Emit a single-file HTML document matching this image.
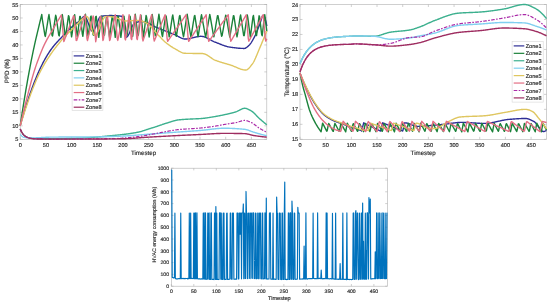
<!DOCTYPE html>
<html><head><meta charset="utf-8"><title>Simulation results</title>
<style>html,body{margin:0;padding:0;background:#fff;width:550px;height:303px;overflow:hidden}svg{display:block}text{stroke:#303030;stroke-width:0.15px}</style>
</head><body>
<svg width="550" height="303" viewBox="0 0 550 303" font-family="Liberation Sans, Arial, sans-serif" text-rendering="geometricPrecision">
<rect width="550" height="303" fill="#fff"/>
<rect x="20.2" y="4.5" width="246.60" height="134.80" fill="none" stroke="#b0b0b0" stroke-width="0.6"/>
<line x1="20.20" y1="139.3" x2="20.20" y2="136.8" stroke="#b0b0b0" stroke-width="0.6"/>
<line x1="20.20" y1="4.5" x2="20.20" y2="7.0" stroke="#b0b0b0" stroke-width="0.6"/>
<line x1="45.89" y1="139.3" x2="45.89" y2="136.8" stroke="#b0b0b0" stroke-width="0.6"/>
<line x1="45.89" y1="4.5" x2="45.89" y2="7.0" stroke="#b0b0b0" stroke-width="0.6"/>
<line x1="71.58" y1="139.3" x2="71.58" y2="136.8" stroke="#b0b0b0" stroke-width="0.6"/>
<line x1="71.58" y1="4.5" x2="71.58" y2="7.0" stroke="#b0b0b0" stroke-width="0.6"/>
<line x1="97.26" y1="139.3" x2="97.26" y2="136.8" stroke="#b0b0b0" stroke-width="0.6"/>
<line x1="97.26" y1="4.5" x2="97.26" y2="7.0" stroke="#b0b0b0" stroke-width="0.6"/>
<line x1="122.95" y1="139.3" x2="122.95" y2="136.8" stroke="#b0b0b0" stroke-width="0.6"/>
<line x1="122.95" y1="4.5" x2="122.95" y2="7.0" stroke="#b0b0b0" stroke-width="0.6"/>
<line x1="148.64" y1="139.3" x2="148.64" y2="136.8" stroke="#b0b0b0" stroke-width="0.6"/>
<line x1="148.64" y1="4.5" x2="148.64" y2="7.0" stroke="#b0b0b0" stroke-width="0.6"/>
<line x1="174.32" y1="139.3" x2="174.32" y2="136.8" stroke="#b0b0b0" stroke-width="0.6"/>
<line x1="174.32" y1="4.5" x2="174.32" y2="7.0" stroke="#b0b0b0" stroke-width="0.6"/>
<line x1="200.01" y1="139.3" x2="200.01" y2="136.8" stroke="#b0b0b0" stroke-width="0.6"/>
<line x1="200.01" y1="4.5" x2="200.01" y2="7.0" stroke="#b0b0b0" stroke-width="0.6"/>
<line x1="225.70" y1="139.3" x2="225.70" y2="136.8" stroke="#b0b0b0" stroke-width="0.6"/>
<line x1="225.70" y1="4.5" x2="225.70" y2="7.0" stroke="#b0b0b0" stroke-width="0.6"/>
<line x1="251.39" y1="139.3" x2="251.39" y2="136.8" stroke="#b0b0b0" stroke-width="0.6"/>
<line x1="251.39" y1="4.5" x2="251.39" y2="7.0" stroke="#b0b0b0" stroke-width="0.6"/>
<line x1="20.2" y1="139.30" x2="22.7" y2="139.30" stroke="#b0b0b0" stroke-width="0.6"/>
<line x1="266.8" y1="139.30" x2="264.3" y2="139.30" stroke="#b0b0b0" stroke-width="0.6"/>
<line x1="20.2" y1="125.82" x2="22.7" y2="125.82" stroke="#b0b0b0" stroke-width="0.6"/>
<line x1="266.8" y1="125.82" x2="264.3" y2="125.82" stroke="#b0b0b0" stroke-width="0.6"/>
<line x1="20.2" y1="112.34" x2="22.7" y2="112.34" stroke="#b0b0b0" stroke-width="0.6"/>
<line x1="266.8" y1="112.34" x2="264.3" y2="112.34" stroke="#b0b0b0" stroke-width="0.6"/>
<line x1="20.2" y1="98.86" x2="22.7" y2="98.86" stroke="#b0b0b0" stroke-width="0.6"/>
<line x1="266.8" y1="98.86" x2="264.3" y2="98.86" stroke="#b0b0b0" stroke-width="0.6"/>
<line x1="20.2" y1="85.38" x2="22.7" y2="85.38" stroke="#b0b0b0" stroke-width="0.6"/>
<line x1="266.8" y1="85.38" x2="264.3" y2="85.38" stroke="#b0b0b0" stroke-width="0.6"/>
<line x1="20.2" y1="71.90" x2="22.7" y2="71.90" stroke="#b0b0b0" stroke-width="0.6"/>
<line x1="266.8" y1="71.90" x2="264.3" y2="71.90" stroke="#b0b0b0" stroke-width="0.6"/>
<line x1="20.2" y1="58.42" x2="22.7" y2="58.42" stroke="#b0b0b0" stroke-width="0.6"/>
<line x1="266.8" y1="58.42" x2="264.3" y2="58.42" stroke="#b0b0b0" stroke-width="0.6"/>
<line x1="20.2" y1="44.94" x2="22.7" y2="44.94" stroke="#b0b0b0" stroke-width="0.6"/>
<line x1="266.8" y1="44.94" x2="264.3" y2="44.94" stroke="#b0b0b0" stroke-width="0.6"/>
<line x1="20.2" y1="31.46" x2="22.7" y2="31.46" stroke="#b0b0b0" stroke-width="0.6"/>
<line x1="266.8" y1="31.46" x2="264.3" y2="31.46" stroke="#b0b0b0" stroke-width="0.6"/>
<line x1="20.2" y1="17.98" x2="22.7" y2="17.98" stroke="#b0b0b0" stroke-width="0.6"/>
<line x1="266.8" y1="17.98" x2="264.3" y2="17.98" stroke="#b0b0b0" stroke-width="0.6"/>
<line x1="20.2" y1="4.50" x2="22.7" y2="4.50" stroke="#b0b0b0" stroke-width="0.6"/>
<line x1="266.8" y1="4.50" x2="264.3" y2="4.50" stroke="#b0b0b0" stroke-width="0.6"/>
<g fill="none" stroke-linejoin="round" stroke-width="1.4">
<polyline points="20.20,125.82 20.71,123.98 21.23,122.16 21.74,120.35 22.25,118.57 22.77,116.80 23.28,115.06 23.80,113.33 24.31,111.62 24.82,109.93 25.34,108.25 25.85,106.60 26.37,104.97 26.88,103.35 27.39,101.75 27.91,100.18 28.42,98.62 28.93,97.08 29.45,95.57 29.96,94.07 30.48,92.59 30.99,91.13 31.50,89.69 32.02,88.27 32.53,86.88 33.04,85.50 33.56,84.14 34.07,82.80 34.59,81.49 35.10,80.19 35.61,78.91 36.13,77.66 36.64,76.43 37.15,75.21 37.67,74.02 38.18,72.85 38.70,71.70 39.21,70.57 39.72,69.46 40.24,68.37 40.75,67.30 41.26,66.24 41.78,65.21 42.29,64.19 42.80,63.18 43.32,62.20 43.83,61.23 44.35,60.28 44.86,59.35 45.37,58.43 45.89,57.54 46.40,56.66 46.92,55.79 47.43,54.95 47.94,54.12 48.46,53.31 48.97,52.52 49.48,51.74 50.00,50.99 50.51,50.25 51.03,49.52 51.54,48.82 52.05,48.13 52.57,47.46 53.08,46.80 53.59,46.16 54.11,45.53 54.62,44.92 55.14,44.32 55.65,43.72 56.16,43.14 56.68,42.57 57.19,42.00 57.70,41.44 58.22,40.89 58.73,40.35 59.25,39.80 59.76,39.26 60.27,38.73 60.79,38.19 61.30,37.65 61.81,37.12 62.33,36.58 62.84,36.04 63.36,35.50 63.87,34.96 64.38,34.42 64.90,33.88 65.41,33.34 65.92,32.80 66.44,32.26 66.95,31.72 67.47,31.19 67.98,30.67 68.49,30.14 69.01,29.63 69.52,29.11 70.03,28.61 70.55,28.11 71.06,27.62 71.58,27.14 72.09,26.66 72.60,26.20 73.12,25.74 73.63,25.30 74.14,24.87 74.66,24.45 75.17,24.04 75.69,23.64 76.20,23.27 76.71,22.93 77.23,22.62 77.74,22.31 78.25,22.00 78.77,21.68 79.28,21.33 79.80,20.95 80.31,20.47 80.82,19.88 81.34,19.22 81.85,18.54 82.36,17.87 82.88,17.28 83.39,16.80 83.91,16.48 84.42,16.36 84.93,16.53 85.45,17.01 85.96,17.76 86.47,18.72 86.99,19.86 87.50,21.14 88.02,22.50 88.53,23.91 89.04,25.32 89.56,26.68 90.07,27.96 90.58,29.10 91.10,30.07 91.61,30.81 92.13,31.29 92.64,31.46 93.15,31.30 93.67,30.83 94.18,30.11 94.69,29.17 95.21,28.05 95.72,26.81 96.24,25.47 96.75,24.09 97.26,22.70 97.78,21.34 98.29,20.07 98.80,18.92 99.32,17.93 99.83,17.14 100.35,16.61 100.86,16.36 101.37,16.28 101.89,16.20 102.40,16.12 102.91,16.05 103.43,15.98 103.94,15.92 104.46,15.86 104.97,15.81 105.48,15.76 106.00,15.72 106.51,15.68 107.02,15.65 107.54,15.62 108.05,15.60 108.57,15.58 109.08,15.56 109.59,15.56 110.11,15.55 110.62,15.55 111.13,15.56 111.65,15.56 112.16,15.57 112.68,15.58 113.19,15.59 113.70,15.61 114.22,15.63 114.73,15.65 115.24,15.68 115.76,15.71 116.27,15.74 116.79,15.77 117.30,15.81 117.81,15.86 118.33,15.90 118.84,15.96 119.35,16.01 119.87,16.07 120.38,16.14 120.90,16.21 121.41,16.28 121.92,16.36 122.44,17.33 122.95,19.74 123.46,23.11 123.98,26.96 124.49,30.80 125.01,34.14 125.52,36.50 126.03,37.39 126.55,37.26 127.06,36.89 127.57,36.30 128.09,35.54 128.60,34.63 129.12,33.60 129.63,32.47 130.14,31.29 130.66,30.09 131.17,28.88 131.68,27.71 132.20,26.61 132.71,25.59 133.22,24.71 133.74,23.98 134.25,23.43 134.77,23.10 135.28,22.90 135.79,22.70 136.31,22.51 136.82,22.33 137.34,22.17 137.85,22.02 138.36,21.89 138.88,21.77 139.39,21.67 139.90,21.59 140.42,21.53 140.93,21.50 141.44,21.48 141.96,21.50 142.47,21.53 142.99,21.59 143.50,21.67 144.01,21.78 144.53,21.90 145.04,22.04 145.56,22.19 146.07,22.36 146.58,22.55 147.10,22.75 147.61,22.96 148.12,23.18 148.64,23.42 149.15,23.66 149.66,23.91 150.18,24.16 150.69,24.42 151.21,24.69 151.72,24.96 152.23,25.22 152.75,25.49 153.26,25.76 153.78,26.03 154.29,26.29 154.80,26.55 155.32,26.81 155.83,27.05 156.34,27.29 156.86,27.53 157.37,27.75 157.88,27.96 158.40,28.16 158.91,28.36 159.43,28.56 159.94,28.77 160.45,28.97 160.97,29.17 161.48,29.37 162.00,29.58 162.51,29.78 163.02,29.98 163.54,30.18 164.05,30.38 164.56,30.59 165.08,30.79 165.59,30.99 166.10,31.19 166.62,31.40 167.13,31.60 167.65,31.80 168.16,32.01 168.67,32.21 169.19,32.42 169.70,32.62 170.22,32.83 170.73,33.03 171.24,33.24 171.76,33.44 172.27,33.65 172.78,33.86 173.30,34.07 173.81,34.28 174.32,34.49 174.84,34.70 175.35,34.92 175.87,35.16 176.38,35.41 176.89,35.68 177.41,35.96 177.92,36.25 178.44,36.53 178.95,36.82 179.46,37.10 179.98,37.38 180.49,37.64 181.00,37.89 181.52,38.13 182.03,38.34 182.55,38.53 183.06,38.69 183.57,38.83 184.09,38.93 184.60,38.99 185.11,39.01 185.63,39.00 186.14,38.98 186.66,38.94 187.17,38.89 187.68,38.82 188.20,38.74 188.71,38.66 189.22,38.56 189.74,38.46 190.25,38.35 190.77,38.23 191.28,38.11 191.79,37.98 192.31,37.86 192.82,37.73 193.33,37.60 193.85,37.47 194.36,37.34 194.88,37.21 195.39,37.09 195.90,36.97 196.42,36.86 196.93,36.76 197.44,36.66 197.96,36.58 198.47,36.50 198.99,36.44 199.50,36.38 200.01,36.35 200.53,36.32 201.04,36.31 201.55,36.33 202.07,36.37 202.58,36.45 203.09,36.55 203.61,36.67 204.12,36.82 204.64,36.99 205.15,37.18 205.66,37.38 206.18,37.60 206.69,37.84 207.21,38.09 207.72,38.34 208.23,38.61 208.75,38.88 209.26,39.16 209.77,39.44 210.29,39.73 210.80,40.01 211.31,40.29 211.83,40.57 212.34,40.84 212.86,41.10 213.37,41.36 213.88,41.60 214.40,41.83 214.91,42.04 215.43,42.24 215.94,42.44 216.45,42.63 216.97,42.83 217.48,43.04 217.99,43.24 218.51,43.45 219.02,43.65 219.53,43.86 220.05,44.07 220.56,44.27 221.08,44.48 221.59,44.68 222.10,44.88 222.62,45.07 223.13,45.27 223.65,45.45 224.16,45.63 224.67,45.81 225.19,45.98 225.70,46.14 226.21,46.29 226.73,46.44 227.24,46.57 227.75,46.70 228.27,46.82 228.78,46.92 229.30,47.02 229.81,47.10 230.32,47.17 230.84,47.25 231.35,47.32 231.87,47.39 232.38,47.46 232.89,47.54 233.41,47.60 233.92,47.67 234.43,47.74 234.95,47.80 235.46,47.86 235.98,47.92 236.49,47.98 237.00,48.03 237.52,48.09 238.03,48.14 238.54,48.18 239.06,48.22 239.57,48.26 240.09,48.30 240.60,48.33 241.11,48.36 241.63,48.39 242.14,48.41 242.65,48.42 243.17,48.44 243.68,48.44 244.20,48.44 244.71,48.39 245.22,48.24 245.74,48.00 246.25,47.68 246.76,47.30 247.28,46.88 247.79,46.42 248.31,45.93 248.82,45.43 249.33,44.94 249.85,44.40 250.36,43.78 250.87,43.09 251.39,42.32 251.90,41.50 252.42,40.63 252.93,39.72 253.44,38.78 253.96,37.82 254.47,36.85 254.98,35.84 255.50,34.76 256.01,33.61 256.53,32.41 257.04,31.17 257.55,29.90 258.07,28.61 258.58,27.31 259.09,26.01 259.61,24.72 260.12,23.26 260.64,21.54 261.15,19.75 261.66,18.06 262.18,16.63 262.69,15.65 263.20,15.28 263.72,15.52 264.23,16.20 264.75,17.34 265.26,18.90 265.77,20.88 266.29,23.28 266.80,26.07" stroke="#2e2e96"/>
<polyline points="20.20,125.82 20.71,122.38 21.23,118.98 21.74,115.62 22.25,112.30 22.77,109.03 23.28,105.80 23.80,102.60 24.31,99.45 24.82,96.34 25.34,93.26 25.85,90.23 26.37,87.23 26.88,84.27 27.39,81.34 27.91,78.46 28.42,75.61 28.93,72.79 29.45,70.01 29.96,67.28 30.48,64.59 30.99,61.95 31.50,59.36 32.02,56.82 32.53,54.31 33.04,51.85 33.56,49.42 34.07,47.03 34.59,44.67 35.10,42.37 35.61,40.12 36.13,37.93 36.64,35.77 37.15,33.62 37.67,31.46 38.18,29.30 38.70,27.15 39.21,25.01 39.72,22.88 40.24,20.76 40.75,18.66 41.26,16.56 41.78,14.48 42.29,19.04 42.80,22.26 43.32,25.48 43.83,28.70 44.35,31.92 44.86,35.14 45.37,36.43 45.89,33.20 46.40,29.98 46.92,26.76 47.43,23.54 47.94,20.32 48.46,17.10 48.97,14.55 49.48,18.01 50.00,21.47 50.51,24.93 51.03,28.39 51.54,31.85 52.05,35.31 52.57,36.01 53.08,32.55 53.59,29.09 54.11,25.63 54.62,22.16 55.14,18.70 55.65,15.24 56.16,16.78 56.68,20.46 57.19,24.14 57.70,27.82 58.22,31.50 58.73,35.18 59.25,35.92 59.76,32.24 60.27,28.56 60.79,24.88 61.30,21.20 61.81,17.52 62.33,14.58 62.84,18.29 63.36,22.00 63.87,25.71 64.38,29.42 64.90,33.13 65.41,36.83 65.92,34.24 66.44,30.53 66.95,26.82 67.47,23.11 67.98,19.40 68.49,15.69 69.01,16.62 69.52,20.66 70.03,24.69 70.55,28.72 71.06,32.75 71.58,36.79 72.09,33.96 72.60,29.93 73.12,25.90 73.63,21.87 74.14,17.83 74.66,14.64 75.17,19.02 75.69,23.39 76.20,27.77 76.71,32.14 77.23,36.52 77.74,33.89 78.25,29.52 78.77,25.14 79.28,20.77 79.80,16.39 80.31,16.41 80.82,20.83 81.34,25.25 81.85,29.66 82.36,34.08 82.88,36.29 83.39,31.87 83.91,27.45 84.42,23.04 84.93,18.62 85.45,14.21 85.96,18.58 86.47,22.95 86.99,27.33 87.50,31.70 88.02,36.08 88.53,34.33 89.04,29.95 89.56,25.58 90.07,21.21 90.58,16.83 91.10,16.08 91.61,20.76 92.13,25.45 92.64,30.13 93.15,34.82 93.67,35.28 94.18,30.60 94.69,25.92 95.21,21.23 95.72,16.55 96.24,16.31 96.75,20.53 97.26,24.74 97.78,28.96 98.29,33.18 98.80,37.39 99.32,33.18 99.83,28.96 100.35,24.74 100.86,20.53 101.37,16.31 101.89,16.52 102.40,21.16 102.91,25.80 103.43,30.44 103.94,35.07 104.46,35.07 104.97,30.44 105.48,25.80 106.00,21.16 106.51,16.52 107.02,16.31 107.54,20.53 108.05,24.74 108.57,28.96 109.08,33.18 109.59,37.39 110.11,33.18 110.62,28.96 111.13,24.74 111.65,20.53 112.16,16.31 112.68,16.31 113.19,20.53 113.70,24.74 114.22,28.96 114.73,33.18 115.24,37.39 115.76,33.18 116.27,28.96 116.79,24.74 117.30,20.53 117.81,16.31 118.33,16.31 118.84,20.53 119.35,24.74 119.87,28.96 120.38,33.18 120.90,37.39 121.41,33.18 121.92,28.96 122.44,24.74 122.95,20.53 123.46,16.31 123.98,16.14 124.49,20.00 125.01,23.87 125.52,27.73 126.03,31.59 126.55,35.46 127.06,35.46 127.57,31.59 128.09,27.73 128.60,23.87 129.12,20.00 129.63,16.14 130.14,16.41 130.66,20.83 131.17,25.25 131.68,29.66 132.20,34.08 132.71,36.29 133.22,31.87 133.74,27.45 134.25,23.04 134.77,18.62 135.28,14.21 135.79,18.50 136.31,22.79 136.82,27.09 137.34,31.38 137.85,35.67 138.36,34.82 138.88,30.52 139.39,26.23 139.90,21.93 140.42,17.64 140.93,15.09 141.44,19.51 141.96,23.92 142.47,28.34 142.99,32.75 143.50,37.17 144.01,33.20 144.53,28.78 145.04,24.36 145.56,19.95 146.07,15.53 146.58,17.00 147.10,21.00 147.61,25.00 148.12,29.00 148.64,32.99 149.15,36.99 149.66,33.79 150.18,29.80 150.69,25.80 151.21,21.80 151.72,17.80 152.23,14.56 152.75,18.10 153.26,21.64 153.78,25.18 154.29,28.72 154.80,32.26 155.32,35.80 155.83,35.44 156.34,31.90 156.86,28.36 157.37,24.82 157.88,21.29 158.40,17.75 158.91,14.21 159.43,17.64 159.94,21.08 160.45,24.51 160.97,27.95 161.48,31.38 162.00,34.82 162.51,36.53 163.02,33.10 163.54,29.66 164.05,26.23 164.56,22.79 165.08,19.36 165.59,15.92 166.10,15.95 166.62,19.44 167.13,22.92 167.65,26.41 168.16,29.90 168.67,33.38 169.19,36.87 169.70,34.43 170.22,30.94 170.73,27.45 171.24,23.97 171.76,20.48 172.27,16.99 172.78,14.88 173.30,18.24 173.81,21.60 174.32,24.96 174.84,28.32 175.35,31.68 175.87,35.04 176.38,36.38 176.89,33.02 177.41,29.66 177.92,26.30 178.44,22.94 178.95,19.58 179.46,16.22 179.98,15.49 180.49,18.71 181.00,21.93 181.52,25.15 182.03,28.37 182.55,31.59 183.06,34.82 183.57,36.75 184.09,33.53 184.60,30.31 185.11,27.09 185.63,23.87 186.14,20.65 186.66,17.43 187.17,14.21 187.68,17.38 188.20,20.56 188.71,23.73 189.22,26.91 189.74,30.09 190.25,33.26 190.77,36.44 191.28,35.17 191.79,31.99 192.31,28.82 192.82,25.64 193.33,22.46 193.85,19.29 194.36,16.11 194.88,15.61 195.39,19.12 195.90,22.64 196.42,26.15 196.93,29.66 197.44,33.18 197.96,36.69 198.47,34.58 198.99,31.07 199.50,27.55 200.01,24.04 200.53,20.53 201.04,17.02 201.55,14.77 202.07,17.62 202.58,20.46 203.09,23.31 203.61,26.15 204.12,29.00 204.64,31.84 205.15,34.69 205.66,37.25 206.18,34.40 206.69,31.56 207.21,28.71 207.72,25.87 208.23,23.02 208.75,20.18 209.26,17.33 209.77,14.49 210.29,16.92 210.80,19.93 211.31,22.94 211.83,25.95 212.34,28.96 212.86,31.97 213.37,34.98 213.88,36.79 214.40,33.78 214.91,30.77 215.43,27.76 215.94,24.74 216.45,21.73 216.97,18.72 217.48,15.71 217.99,15.67 218.51,18.61 219.02,21.54 219.53,24.48 220.05,27.41 220.56,30.35 221.08,33.28 221.59,36.22 222.10,35.63 222.62,32.70 223.13,29.76 223.65,26.83 224.16,23.89 224.67,20.96 225.19,18.02 225.70,15.09 226.21,16.34 226.73,19.39 227.24,22.44 227.75,25.49 228.27,28.54 228.78,31.59 229.30,34.65 229.81,37.09 230.32,34.04 230.84,30.98 231.35,27.93 231.87,24.88 232.38,21.83 232.89,18.78 233.41,15.73 233.92,15.95 234.43,19.44 234.95,22.92 235.46,26.41 235.98,29.90 236.49,33.38 237.00,36.87 237.52,34.43 238.03,30.94 238.54,27.45 239.06,23.97 239.57,20.48 240.09,16.99 240.60,14.90 241.11,18.36 241.63,21.82 242.14,25.28 242.65,28.74 243.17,32.20 243.68,35.66 244.20,35.66 244.71,32.20 245.22,28.74 245.74,25.28 246.25,21.82 246.76,18.36 247.28,14.90 247.79,17.43 248.31,21.46 248.82,25.50 249.33,29.53 249.85,33.56 250.36,37.19 250.87,33.16 251.39,29.13 251.90,25.09 252.42,21.06 252.93,17.03 253.44,15.39 253.96,19.36 254.47,23.32 254.98,27.28 255.50,31.25 256.01,35.21 256.53,35.61 257.04,31.64 257.55,27.68 258.07,23.72 258.58,19.75 259.09,15.79 259.61,16.86 260.12,21.27 260.64,25.69 261.15,30.10 261.66,34.52 262.18,35.85 262.69,31.43 263.20,27.01 263.72,22.60 264.23,18.18 264.75,14.62 265.26,18.80 265.77,22.98 266.29,27.16 266.80,31.33" stroke="#1b823a"/>
<polyline points="20.20,129.06 20.71,130.10 21.23,131.12 21.74,132.09 22.25,132.98 22.77,133.80 23.28,134.50 23.80,135.08 24.31,135.53 24.82,135.88 25.34,136.20 25.85,136.50 26.37,136.77 26.88,137.02 27.39,137.24 27.91,137.44 28.42,137.61 28.93,137.76 29.45,137.88 29.96,137.98 30.48,138.07 30.99,138.16 31.50,138.24 32.02,138.32 32.53,138.39 33.04,138.45 33.56,138.50 34.07,138.55 34.59,138.58 35.10,138.61 35.61,138.63 36.13,138.64 36.64,138.64 37.15,138.65 37.67,138.66 38.18,138.67 38.70,138.68 39.21,138.68 39.72,138.69 40.24,138.70 40.75,138.70 41.26,138.71 41.78,138.71 42.29,138.72 42.80,138.72 43.32,138.73 43.83,138.73 44.35,138.74 44.86,138.74 45.37,138.74 45.89,138.75 46.40,138.75 46.92,138.75 47.43,138.75 47.94,138.76 48.46,138.76 48.97,138.76 49.48,138.76 50.00,138.76 50.51,138.76 51.03,138.76 51.54,138.76 52.05,138.76 52.57,138.76 53.08,138.76 53.59,138.75 54.11,138.75 54.62,138.75 55.14,138.75 55.65,138.74 56.16,138.74 56.68,138.73 57.19,138.73 57.70,138.72 58.22,138.72 58.73,138.71 59.25,138.70 59.76,138.70 60.27,138.69 60.79,138.68 61.30,138.67 61.81,138.66 62.33,138.66 62.84,138.65 63.36,138.64 63.87,138.63 64.38,138.62 64.90,138.61 65.41,138.60 65.92,138.59 66.44,138.57 66.95,138.56 67.47,138.55 67.98,138.54 68.49,138.53 69.01,138.51 69.52,138.50 70.03,138.49 70.55,138.48 71.06,138.46 71.58,138.45 72.09,138.43 72.60,138.42 73.12,138.41 73.63,138.39 74.14,138.38 74.66,138.36 75.17,138.35 75.69,138.33 76.20,138.32 76.71,138.30 77.23,138.29 77.74,138.27 78.25,138.25 78.77,138.24 79.28,138.22 79.80,138.20 80.31,138.19 80.82,138.16 81.34,138.14 81.85,138.12 82.36,138.09 82.88,138.06 83.39,138.03 83.91,138.00 84.42,137.97 84.93,137.94 85.45,137.90 85.96,137.87 86.47,137.83 86.99,137.79 87.50,137.76 88.02,137.72 88.53,137.68 89.04,137.64 89.56,137.60 90.07,137.57 90.58,137.53 91.10,137.49 91.61,137.45 92.13,137.41 92.64,137.37 93.15,137.34 93.67,137.30 94.18,137.26 94.69,137.22 95.21,137.17 95.72,137.13 96.24,137.09 96.75,137.05 97.26,137.00 97.78,136.96 98.29,136.91 98.80,136.87 99.32,136.82 99.83,136.77 100.35,136.73 100.86,136.68 101.37,136.63 101.89,136.59 102.40,136.54 102.91,136.49 103.43,136.44 103.94,136.39 104.46,136.34 104.97,136.29 105.48,136.24 106.00,136.19 106.51,136.14 107.02,136.09 107.54,136.04 108.05,135.99 108.57,135.95 109.08,135.90 109.59,135.85 110.11,135.80 110.62,135.75 111.13,135.70 111.65,135.65 112.16,135.60 112.68,135.55 113.19,135.50 113.70,135.45 114.22,135.40 114.73,135.35 115.24,135.30 115.76,135.25 116.27,135.20 116.79,135.15 117.30,135.10 117.81,135.05 118.33,135.00 118.84,134.94 119.35,134.89 119.87,134.84 120.38,134.78 120.90,134.73 121.41,134.67 121.92,134.61 122.44,134.55 122.95,134.49 123.46,134.43 123.98,134.37 124.49,134.31 125.01,134.24 125.52,134.18 126.03,134.11 126.55,134.04 127.06,133.97 127.57,133.90 128.09,133.83 128.60,133.76 129.12,133.69 129.63,133.61 130.14,133.54 130.66,133.46 131.17,133.38 131.68,133.30 132.20,133.22 132.71,133.14 133.22,133.05 133.74,132.97 134.25,132.88 134.77,132.79 135.28,132.69 135.79,132.60 136.31,132.50 136.82,132.40 137.34,132.30 137.85,132.20 138.36,132.09 138.88,131.98 139.39,131.87 139.90,131.75 140.42,131.63 140.93,131.50 141.44,131.35 141.96,131.20 142.47,131.04 142.99,130.88 143.50,130.71 144.01,130.54 144.53,130.36 145.04,130.18 145.56,130.01 146.07,129.83 146.58,129.66 147.10,129.49 147.61,129.32 148.12,129.16 148.64,129.00 149.15,128.84 149.66,128.68 150.18,128.52 150.69,128.36 151.21,128.20 151.72,128.04 152.23,127.88 152.75,127.72 153.26,127.56 153.78,127.39 154.29,127.23 154.80,127.06 155.32,126.90 155.83,126.73 156.34,126.56 156.86,126.39 157.37,126.22 157.88,126.04 158.40,125.87 158.91,125.69 159.43,125.51 159.94,125.33 160.45,125.16 160.97,124.98 161.48,124.80 162.00,124.63 162.51,124.45 163.02,124.28 163.54,124.11 164.05,123.94 164.56,123.77 165.08,123.60 165.59,123.44 166.10,123.28 166.62,123.12 167.13,122.97 167.65,122.81 168.16,122.64 168.67,122.48 169.19,122.31 169.70,122.14 170.22,121.97 170.73,121.80 171.24,121.63 171.76,121.47 172.27,121.31 172.78,121.15 173.30,121.00 173.81,120.85 174.32,120.71 174.84,120.57 175.35,120.45 175.87,120.33 176.38,120.22 176.89,120.12 177.41,120.03 177.92,119.95 178.44,119.89 178.95,119.83 179.46,119.78 179.98,119.73 180.49,119.68 181.00,119.64 181.52,119.59 182.03,119.55 182.55,119.51 183.06,119.48 183.57,119.44 184.09,119.41 184.60,119.37 185.11,119.34 185.63,119.31 186.14,119.28 186.66,119.25 187.17,119.22 187.68,119.19 188.20,119.17 188.71,119.14 189.22,119.11 189.74,119.08 190.25,119.05 190.77,119.02 191.28,119.00 191.79,118.98 192.31,118.95 192.82,118.93 193.33,118.91 193.85,118.89 194.36,118.87 194.88,118.85 195.39,118.83 195.90,118.81 196.42,118.79 196.93,118.77 197.44,118.74 197.96,118.72 198.47,118.69 198.99,118.67 199.50,118.64 200.01,118.61 200.53,118.58 201.04,118.54 201.55,118.50 202.07,118.46 202.58,118.41 203.09,118.36 203.61,118.30 204.12,118.24 204.64,118.18 205.15,118.12 205.66,118.05 206.18,117.98 206.69,117.90 207.21,117.83 207.72,117.75 208.23,117.67 208.75,117.59 209.26,117.51 209.77,117.42 210.29,117.34 210.80,117.26 211.31,117.17 211.83,117.09 212.34,117.01 212.86,116.92 213.37,116.84 213.88,116.76 214.40,116.67 214.91,116.58 215.43,116.49 215.94,116.40 216.45,116.31 216.97,116.22 217.48,116.12 217.99,116.02 218.51,115.93 219.02,115.83 219.53,115.73 220.05,115.62 220.56,115.52 221.08,115.42 221.59,115.31 222.10,115.20 222.62,115.10 223.13,114.99 223.65,114.88 224.16,114.77 224.67,114.65 225.19,114.54 225.70,114.43 226.21,114.32 226.73,114.20 227.24,114.09 227.75,113.97 228.27,113.85 228.78,113.73 229.30,113.61 229.81,113.49 230.32,113.36 230.84,113.23 231.35,113.10 231.87,112.97 232.38,112.84 232.89,112.70 233.41,112.56 233.92,112.41 234.43,112.27 234.95,112.11 235.46,111.96 235.98,111.80 236.49,111.62 237.00,111.42 237.52,111.19 238.03,110.93 238.54,110.67 239.06,110.40 239.57,110.12 240.09,109.84 240.60,109.57 241.11,109.32 241.63,109.08 242.14,108.86 242.65,108.67 243.17,108.51 243.68,108.40 244.20,108.32 244.71,108.30 245.22,108.32 245.74,108.39 246.25,108.51 246.76,108.66 247.28,108.85 247.79,109.06 248.31,109.30 248.82,109.56 249.33,109.83 249.85,110.12 250.36,110.41 250.87,110.70 251.39,110.99 251.90,111.31 252.42,111.67 252.93,112.08 253.44,112.53 253.96,113.01 254.47,113.52 254.98,114.05 255.50,114.59 256.01,115.14 256.53,115.69 257.04,116.24 257.55,116.78 258.07,117.30 258.58,117.80 259.09,118.27 259.61,118.73 260.12,119.18 260.64,119.63 261.15,120.07 261.66,120.51 262.18,120.95 262.69,121.39 263.20,121.82 263.72,122.25 264.23,122.67 264.75,123.09 265.26,123.51 265.77,123.93 266.29,124.34 266.80,124.74" stroke="#3cb08e"/>
<polyline points="20.20,134.45 20.71,134.95 21.23,135.44 21.74,135.91 22.25,136.35 22.77,136.73 23.28,137.04 23.80,137.28 24.31,137.41 24.82,137.49 25.34,137.57 25.85,137.64 26.37,137.70 26.88,137.76 27.39,137.81 27.91,137.85 28.42,137.89 28.93,137.92 29.45,137.94 29.96,137.95 30.48,137.95 30.99,137.95 31.50,137.95 32.02,137.94 32.53,137.93 33.04,137.92 33.56,137.91 34.07,137.89 34.59,137.88 35.10,137.86 35.61,137.84 36.13,137.81 36.64,137.79 37.15,137.77 37.67,137.74 38.18,137.72 38.70,137.69 39.21,137.66 39.72,137.63 40.24,137.61 40.75,137.58 41.26,137.55 41.78,137.52 42.29,137.49 42.80,137.46 43.32,137.43 43.83,137.41 44.35,137.38 44.86,137.35 45.37,137.33 45.89,137.30 46.40,137.28 46.92,137.26 47.43,137.24 47.94,137.22 48.46,137.20 48.97,137.18 49.48,137.17 50.00,137.16 50.51,137.15 51.03,137.14 51.54,137.14 52.05,137.13 52.57,137.13 53.08,137.12 53.59,137.12 54.11,137.11 54.62,137.11 55.14,137.10 55.65,137.10 56.16,137.09 56.68,137.09 57.19,137.09 57.70,137.08 58.22,137.08 58.73,137.07 59.25,137.07 59.76,137.07 60.27,137.06 60.79,137.06 61.30,137.06 61.81,137.06 62.33,137.05 62.84,137.05 63.36,137.05 63.87,137.04 64.38,137.04 64.90,137.04 65.41,137.04 65.92,137.03 66.44,137.03 66.95,137.03 67.47,137.03 67.98,137.03 68.49,137.02 69.01,137.02 69.52,137.02 70.03,137.02 70.55,137.02 71.06,137.01 71.58,137.01 72.09,137.01 72.60,137.01 73.12,137.01 73.63,137.01 74.14,137.00 74.66,137.00 75.17,137.00 75.69,137.00 76.20,137.00 76.71,137.00 77.23,136.99 77.74,136.99 78.25,136.99 78.77,136.99 79.28,136.99 79.80,136.99 80.31,136.98 80.82,136.98 81.34,136.98 81.85,136.98 82.36,136.98 82.88,136.97 83.39,136.97 83.91,136.97 84.42,136.97 84.93,136.96 85.45,136.96 85.96,136.96 86.47,136.96 86.99,136.95 87.50,136.95 88.02,136.95 88.53,136.94 89.04,136.94 89.56,136.94 90.07,136.93 90.58,136.93 91.10,136.93 91.61,136.92 92.13,136.92 92.64,136.92 93.15,136.91 93.67,136.91 94.18,136.90 94.69,136.90 95.21,136.89 95.72,136.89 96.24,136.88 96.75,136.88 97.26,136.87 97.78,136.87 98.29,136.86 98.80,136.85 99.32,136.85 99.83,136.84 100.35,136.83 100.86,136.82 101.37,136.81 101.89,136.80 102.40,136.79 102.91,136.78 103.43,136.77 103.94,136.76 104.46,136.74 104.97,136.73 105.48,136.72 106.00,136.70 106.51,136.69 107.02,136.67 107.54,136.66 108.05,136.64 108.57,136.63 109.08,136.61 109.59,136.59 110.11,136.58 110.62,136.56 111.13,136.54 111.65,136.52 112.16,136.51 112.68,136.49 113.19,136.47 113.70,136.45 114.22,136.43 114.73,136.41 115.24,136.39 115.76,136.37 116.27,136.35 116.79,136.33 117.30,136.31 117.81,136.29 118.33,136.26 118.84,136.24 119.35,136.22 119.87,136.20 120.38,136.18 120.90,136.15 121.41,136.13 121.92,136.11 122.44,136.09 122.95,136.06 123.46,136.04 123.98,136.02 124.49,135.99 125.01,135.96 125.52,135.94 126.03,135.91 126.55,135.88 127.06,135.85 127.57,135.82 128.09,135.78 128.60,135.75 129.12,135.72 129.63,135.68 130.14,135.65 130.66,135.61 131.17,135.57 131.68,135.53 132.20,135.50 132.71,135.46 133.22,135.42 133.74,135.38 134.25,135.34 134.77,135.30 135.28,135.26 135.79,135.21 136.31,135.17 136.82,135.13 137.34,135.09 137.85,135.05 138.36,135.00 138.88,134.96 139.39,134.92 139.90,134.87 140.42,134.83 140.93,134.79 141.44,134.75 141.96,134.70 142.47,134.66 142.99,134.62 143.50,134.58 144.01,134.54 144.53,134.49 145.04,134.45 145.56,134.41 146.07,134.37 146.58,134.33 147.10,134.29 147.61,134.25 148.12,134.22 148.64,134.18 149.15,134.14 149.66,134.10 150.18,134.07 150.69,134.03 151.21,133.99 151.72,133.95 152.23,133.92 152.75,133.88 153.26,133.84 153.78,133.80 154.29,133.77 154.80,133.73 155.32,133.69 155.83,133.65 156.34,133.62 156.86,133.58 157.37,133.54 157.88,133.50 158.40,133.47 158.91,133.43 159.43,133.39 159.94,133.36 160.45,133.32 160.97,133.28 161.48,133.24 162.00,133.21 162.51,133.17 163.02,133.13 163.54,133.10 164.05,133.06 164.56,133.02 165.08,132.98 165.59,132.95 166.10,132.91 166.62,132.87 167.13,132.84 167.65,132.80 168.16,132.76 168.67,132.72 169.19,132.69 169.70,132.65 170.22,132.61 170.73,132.58 171.24,132.54 171.76,132.50 172.27,132.46 172.78,132.43 173.30,132.39 173.81,132.35 174.32,132.32 174.84,132.28 175.35,132.24 175.87,132.21 176.38,132.17 176.89,132.13 177.41,132.09 177.92,132.06 178.44,132.02 178.95,131.98 179.46,131.95 179.98,131.91 180.49,131.87 181.00,131.84 181.52,131.80 182.03,131.77 182.55,131.73 183.06,131.70 183.57,131.66 184.09,131.63 184.60,131.59 185.11,131.55 185.63,131.52 186.14,131.48 186.66,131.45 187.17,131.41 187.68,131.38 188.20,131.34 188.71,131.31 189.22,131.27 189.74,131.24 190.25,131.20 190.77,131.17 191.28,131.13 191.79,131.09 192.31,131.06 192.82,131.02 193.33,130.99 193.85,130.95 194.36,130.91 194.88,130.87 195.39,130.84 195.90,130.80 196.42,130.76 196.93,130.72 197.44,130.68 197.96,130.65 198.47,130.61 198.99,130.57 199.50,130.53 200.01,130.49 200.53,130.44 201.04,130.40 201.55,130.36 202.07,130.31 202.58,130.27 203.09,130.22 203.61,130.16 204.12,130.11 204.64,130.06 205.15,130.00 205.66,129.94 206.18,129.88 206.69,129.82 207.21,129.76 207.72,129.69 208.23,129.63 208.75,129.57 209.26,129.50 209.77,129.44 210.29,129.37 210.80,129.31 211.31,129.25 211.83,129.18 212.34,129.12 212.86,129.06 213.37,129.00 213.88,128.94 214.40,128.88 214.91,128.83 215.43,128.77 215.94,128.72 216.45,128.67 216.97,128.62 217.48,128.57 217.99,128.53 218.51,128.49 219.02,128.45 219.53,128.41 220.05,128.38 220.56,128.35 221.08,128.32 221.59,128.30 222.10,128.28 222.62,128.27 223.13,128.26 223.65,128.25 224.16,128.25 224.67,128.25 225.19,128.25 225.70,128.25 226.21,128.26 226.73,128.26 227.24,128.27 227.75,128.28 228.27,128.29 228.78,128.31 229.30,128.32 229.81,128.33 230.32,128.35 230.84,128.37 231.35,128.39 231.87,128.41 232.38,128.43 232.89,128.45 233.41,128.48 233.92,128.50 234.43,128.53 234.95,128.56 235.46,128.59 235.98,128.62 236.49,128.65 237.00,128.68 237.52,128.72 238.03,128.76 238.54,128.79 239.06,128.83 239.57,128.87 240.09,128.91 240.60,128.95 241.11,128.99 241.63,129.04 242.14,129.08 242.65,129.13 243.17,129.18 243.68,129.22 244.20,129.27 244.71,129.32 245.22,129.39 245.74,129.48 246.25,129.59 246.76,129.72 247.28,129.86 247.79,130.03 248.31,130.20 248.82,130.39 249.33,130.58 249.85,130.78 250.36,130.98 250.87,131.18 251.39,131.39 251.90,131.58 252.42,131.77 252.93,131.96 253.44,132.13 253.96,132.29 254.47,132.44 254.98,132.59 255.50,132.74 256.01,132.89 256.53,133.04 257.04,133.19 257.55,133.34 258.07,133.48 258.58,133.63 259.09,133.77 259.61,133.91 260.12,134.05 260.64,134.20 261.15,134.33 261.66,134.47 262.18,134.61 262.69,134.75 263.20,134.88 263.72,135.02 264.23,135.15 264.75,135.28 265.26,135.41 265.77,135.54 266.29,135.67 266.80,135.80" stroke="#80cff0"/>
<polyline points="20.20,125.82 20.71,124.14 21.23,122.48 21.74,120.82 22.25,119.18 22.77,117.55 23.28,115.93 23.80,114.33 24.31,112.73 24.82,111.15 25.34,109.59 25.85,108.03 26.37,106.50 26.88,104.97 27.39,103.47 27.91,101.97 28.42,100.50 28.93,99.04 29.45,97.59 29.96,96.16 30.48,94.75 30.99,93.36 31.50,91.99 32.02,90.63 32.53,89.29 33.04,87.97 33.56,86.67 34.07,85.39 34.59,84.13 35.10,82.89 35.61,81.67 36.13,80.47 36.64,79.30 37.15,78.14 37.67,77.01 38.18,75.90 38.70,74.81 39.21,73.75 39.72,72.70 40.24,71.69 40.75,70.69 41.26,69.72 41.78,68.77 42.29,67.83 42.80,66.91 43.32,66.00 43.83,65.10 44.35,64.21 44.86,63.34 45.37,62.48 45.89,61.63 46.40,60.80 46.92,59.97 47.43,59.16 47.94,58.36 48.46,57.57 48.97,56.79 49.48,56.01 50.00,55.25 50.51,54.50 51.03,53.76 51.54,53.03 52.05,52.31 52.57,51.59 53.08,50.89 53.59,50.19 54.11,49.50 54.62,48.82 55.14,48.14 55.65,47.47 56.16,46.81 56.68,46.16 57.19,45.51 57.70,44.87 58.22,44.23 58.73,43.60 59.25,42.97 59.76,42.35 60.27,41.73 60.79,41.12 61.30,40.51 61.81,39.91 62.33,39.31 62.84,38.71 63.36,38.12 63.87,37.55 64.38,36.98 64.90,36.42 65.41,35.87 65.92,35.33 66.44,34.80 66.95,34.27 67.47,33.75 67.98,33.24 68.49,32.73 69.01,32.23 69.52,31.73 70.03,31.24 70.55,30.75 71.06,30.27 71.58,29.79 72.09,29.31 72.60,28.83 73.12,28.36 73.63,27.89 74.14,27.42 74.66,26.93 75.17,26.42 75.69,25.89 76.20,25.35 76.71,24.79 77.23,24.22 77.74,23.65 78.25,23.07 78.77,22.50 79.28,21.93 79.80,21.37 80.31,20.82 80.82,20.29 81.34,19.78 81.85,19.30 82.36,18.84 82.88,18.42 83.39,18.03 83.91,17.68 84.42,17.38 84.93,17.12 85.45,16.91 85.96,16.76 86.47,16.66 86.99,16.63 87.50,16.87 88.02,17.54 88.53,18.57 89.04,19.89 89.56,21.45 90.07,23.18 90.58,25.00 91.10,26.86 91.61,28.69 92.13,30.41 92.64,31.97 93.15,33.30 93.67,34.33 94.18,35.00 94.69,35.23 95.21,35.12 95.72,34.79 96.24,34.28 96.75,33.59 97.26,32.75 97.78,31.79 98.29,30.72 98.80,29.56 99.32,28.34 99.83,27.08 100.35,25.80 100.86,24.52 101.37,23.25 101.89,22.03 102.40,20.88 102.91,19.81 103.43,18.84 103.94,18.01 104.46,17.32 104.97,16.80 105.48,16.48 106.00,16.36 106.51,16.37 107.02,16.38 107.54,16.40 108.05,16.44 108.57,16.48 109.08,16.52 109.59,16.58 110.11,16.63 110.62,16.70 111.13,16.77 111.65,16.84 112.16,16.92 112.68,17.00 113.19,17.09 113.70,17.17 114.22,17.26 114.73,17.35 115.24,17.44 115.76,17.55 116.27,17.69 116.79,17.87 117.30,18.07 117.81,18.29 118.33,18.52 118.84,18.77 119.35,19.02 119.87,19.28 120.38,19.53 120.90,19.78 121.41,20.02 121.92,20.23 122.44,20.43 122.95,20.60 123.46,20.75 123.98,20.85 124.49,20.92 125.01,20.95 125.52,20.94 126.03,20.94 126.55,20.93 127.06,20.91 127.57,20.89 128.09,20.87 128.60,20.85 129.12,20.82 129.63,20.80 130.14,20.77 130.66,20.74 131.17,20.71 131.68,20.68 132.20,20.64 132.71,20.61 133.22,20.58 133.74,20.56 134.25,20.53 134.77,20.50 135.28,20.48 135.79,20.46 136.31,20.44 136.82,20.43 137.34,20.42 137.85,20.41 138.36,20.41 138.88,20.42 139.39,20.47 139.90,20.54 140.42,20.64 140.93,20.76 141.44,20.91 141.96,21.07 142.47,21.26 142.99,21.46 143.50,21.67 144.01,21.89 144.53,22.12 145.04,22.36 145.56,22.61 146.07,22.85 146.58,23.10 147.10,23.38 147.61,23.70 148.12,24.06 148.64,24.47 149.15,24.92 149.66,25.39 150.18,25.90 150.69,26.44 151.21,27.00 151.72,27.57 152.23,28.17 152.75,28.77 153.26,29.38 153.78,30.00 154.29,30.62 154.80,31.24 155.32,31.85 155.83,32.45 156.34,33.04 156.86,33.61 157.37,34.17 157.88,34.70 158.40,35.21 158.91,35.74 159.43,36.27 159.94,36.81 160.45,37.34 160.97,37.88 161.48,38.41 162.00,38.94 162.51,39.47 163.02,39.98 163.54,40.48 164.05,40.98 164.56,41.45 165.08,41.92 165.59,42.36 166.10,42.78 166.62,43.19 167.13,43.60 167.65,43.99 168.16,44.38 168.67,44.76 169.19,45.14 169.70,45.50 170.22,45.86 170.73,46.21 171.24,46.55 171.76,46.89 172.27,47.21 172.78,47.53 173.30,47.84 173.81,48.14 174.32,48.43 174.84,48.71 175.35,49.00 175.87,49.29 176.38,49.59 176.89,49.89 177.41,50.20 177.92,50.50 178.44,50.80 178.95,51.10 179.46,51.38 179.98,51.66 180.49,51.92 181.00,52.17 181.52,52.40 182.03,52.61 182.55,52.80 183.06,52.96 183.57,53.09 184.09,53.19 184.60,53.26 185.11,53.30 185.63,53.31 186.14,53.33 186.66,53.34 187.17,53.35 187.68,53.36 188.20,53.37 188.71,53.38 189.22,53.39 189.74,53.40 190.25,53.40 190.77,53.41 191.28,53.41 191.79,53.42 192.31,53.42 192.82,53.43 193.33,53.43 193.85,53.43 194.36,53.44 194.88,53.44 195.39,53.45 195.90,53.45 196.42,53.45 196.93,53.46 197.44,53.46 197.96,53.47 198.47,53.48 198.99,53.49 199.50,53.49 200.01,53.50 200.53,53.51 201.04,53.52 201.55,53.54 202.07,53.55 202.58,53.57 203.09,53.61 203.61,53.69 204.12,53.81 204.64,53.97 205.15,54.16 205.66,54.38 206.18,54.63 206.69,54.90 207.21,55.20 207.72,55.51 208.23,55.84 208.75,56.18 209.26,56.53 209.77,56.88 210.29,57.24 210.80,57.60 211.31,57.95 211.83,58.30 212.34,58.64 212.86,58.97 213.37,59.28 213.88,59.57 214.40,59.84 214.91,60.09 215.43,60.31 215.94,60.51 216.45,60.70 216.97,60.89 217.48,61.08 217.99,61.26 218.51,61.44 219.02,61.61 219.53,61.78 220.05,61.94 220.56,62.11 221.08,62.26 221.59,62.42 222.10,62.58 222.62,62.73 223.13,62.88 223.65,63.03 224.16,63.18 224.67,63.33 225.19,63.48 225.70,63.62 226.21,63.77 226.73,63.92 227.24,64.07 227.75,64.22 228.27,64.37 228.78,64.52 229.30,64.68 229.81,64.84 230.32,65.00 230.84,65.16 231.35,65.33 231.87,65.51 232.38,65.70 232.89,65.90 233.41,66.11 233.92,66.32 234.43,66.53 234.95,66.75 235.46,66.98 235.98,67.20 236.49,67.42 237.00,67.64 237.52,67.86 238.03,68.08 238.54,68.29 239.06,68.49 239.57,68.69 240.09,68.87 240.60,69.05 241.11,69.22 241.63,69.37 242.14,69.51 242.65,69.64 243.17,69.75 243.68,69.84 244.20,69.91 244.71,69.97 245.22,70.00 245.74,70.01 246.25,69.96 246.76,69.79 247.28,69.53 247.79,69.18 248.31,68.75 248.82,68.26 249.33,67.71 249.85,67.12 250.36,66.49 250.87,65.83 251.39,65.16 251.90,64.48 252.42,63.81 252.93,63.09 253.44,62.25 253.96,61.32 254.47,60.31 254.98,59.22 255.50,58.08 256.01,56.89 256.53,55.66 257.04,54.42 257.55,53.18 258.07,51.93 258.58,50.71 259.09,49.52 259.61,48.34 260.12,47.13 260.64,45.89 261.15,44.65 261.66,43.39 262.18,42.14 262.69,40.90 263.20,39.66 263.72,38.41 264.23,37.17 264.75,35.92 265.26,34.68 265.77,33.43 266.29,32.17 266.80,30.92" stroke="#dfc660"/>
<polyline points="20.20,125.82 20.71,123.58 21.23,121.37 21.74,119.17 22.25,116.98 22.77,114.82 23.28,112.67 23.80,110.54 24.31,108.43 24.82,106.34 25.34,104.26 25.85,102.21 26.37,100.17 26.88,98.16 27.39,96.16 27.91,94.18 28.42,92.19 28.93,90.21 29.45,88.24 29.96,86.28 30.48,84.34 30.99,82.42 31.50,80.53 32.02,78.67 32.53,76.85 33.04,75.07 33.56,73.33 34.07,71.65 34.59,70.01 35.10,68.43 35.61,66.88 36.13,65.37 36.64,63.89 37.15,62.45 37.67,61.03 38.18,59.64 38.70,58.28 39.21,56.94 39.72,55.62 40.24,54.31 40.75,53.03 41.26,51.76 41.78,50.51 42.29,49.28 42.80,48.07 43.32,46.90 43.83,45.76 44.35,44.66 44.86,43.59 45.37,42.56 45.89,41.57 46.40,40.59 46.92,39.64 47.43,38.71 47.94,37.79 48.46,36.90 48.97,36.01 49.48,35.13 50.00,34.26 50.51,33.39 51.03,32.53 51.54,31.66 52.05,30.79 52.57,29.92 53.08,29.03 53.59,28.14 54.11,27.26 54.62,26.37 55.14,25.49 55.65,24.61 56.16,23.73 56.68,22.86 57.19,21.98 57.70,21.11 58.22,20.25 58.73,19.38 59.25,18.52 59.76,17.65 60.27,16.80 60.79,15.94 61.30,15.09 61.81,18.34 62.33,24.33 62.84,30.32 63.36,36.31 63.87,41.57 64.38,40.21 64.90,38.85 65.41,37.48 65.92,36.12 66.44,34.76 66.95,33.40 67.47,32.04 67.98,30.68 68.49,29.31 69.01,27.95 69.52,26.59 70.03,25.23 70.55,23.87 71.06,22.51 71.58,21.14 72.09,19.78 72.60,18.42 73.12,17.06 73.63,15.70 74.14,16.54 74.66,22.53 75.17,28.52 75.69,34.52 76.20,40.51 76.71,40.42 77.23,38.82 77.74,37.21 78.25,35.61 78.77,34.00 79.28,32.40 79.80,30.79 80.31,29.19 80.82,27.58 81.34,25.98 81.85,24.37 82.36,22.77 82.88,21.16 83.39,19.56 83.91,17.95 84.42,16.35 84.93,14.74 85.45,20.74 85.96,26.73 86.47,32.72 86.99,38.71 87.50,40.58 88.02,38.33 88.53,36.09 89.04,33.84 89.56,31.59 90.07,29.35 90.58,27.10 91.10,24.85 91.61,22.61 92.13,20.36 92.64,18.11 93.15,15.87 93.67,17.74 94.18,23.73 94.69,29.72 95.21,35.71 95.72,41.70 96.24,38.93 96.75,36.15 97.26,33.37 97.78,30.59 98.29,27.81 98.80,25.03 99.32,22.25 99.83,19.47 100.35,16.69 100.86,16.54 101.37,22.53 101.89,28.52 102.40,34.52 102.91,40.51 103.43,39.17 103.94,36.00 104.46,32.82 104.97,29.65 105.48,26.48 106.00,23.31 106.51,20.14 107.02,16.97 107.54,16.54 108.05,22.53 108.57,28.52 109.08,34.52 109.59,40.51 110.11,39.71 110.62,37.21 111.13,34.72 111.65,32.22 112.16,29.72 112.68,27.23 113.19,24.73 113.70,22.23 114.22,19.74 114.73,17.24 115.24,14.74 115.76,20.74 116.27,26.73 116.79,32.72 117.30,38.71 117.81,40.42 118.33,37.85 118.84,35.29 119.35,32.72 119.87,30.15 120.38,27.58 120.90,25.02 121.41,22.45 121.92,19.88 122.44,17.31 122.95,14.74 123.46,20.74 123.98,26.73 124.49,32.72 125.01,38.71 125.52,39.91 126.03,36.31 126.55,32.72 127.06,29.12 127.57,25.53 128.09,21.93 128.60,18.34 129.12,14.74 129.63,20.74 130.14,26.73 130.66,32.72 131.17,38.71 131.68,39.63 132.20,35.48 132.71,31.34 133.22,27.19 133.74,23.04 134.25,18.89 134.77,14.74 135.28,20.74 135.79,26.73 136.31,32.72 136.82,38.71 137.34,39.63 137.85,35.48 138.36,31.34 138.88,27.19 139.39,23.04 139.90,18.89 140.42,14.74 140.93,20.74 141.44,26.73 141.96,32.72 142.47,38.71 142.99,40.93 143.50,39.39 144.01,37.85 144.53,36.31 145.04,34.77 145.56,33.23 146.07,31.69 146.58,30.15 147.10,28.61 147.61,27.07 148.12,25.53 148.64,23.99 149.15,22.45 149.66,20.91 150.18,19.37 150.69,17.83 151.21,16.29 151.72,14.74 152.23,20.74 152.75,26.73 153.26,32.72 153.78,38.71 154.29,41.08 154.80,39.82 155.32,38.57 155.83,37.32 156.34,36.06 156.86,34.81 157.37,33.55 157.88,32.30 158.40,31.05 158.91,29.79 159.43,28.54 159.94,27.28 160.45,26.03 160.97,24.78 161.48,23.52 162.00,22.27 162.51,21.01 163.02,19.76 163.54,18.51 164.05,17.25 164.56,16.00 165.08,14.74 165.59,20.74 166.10,26.73 166.62,32.72 167.13,38.71 167.65,41.34 168.16,40.60 168.67,39.86 169.19,39.12 169.70,38.38 170.22,37.64 170.73,36.90 171.24,36.17 171.76,35.43 172.27,34.69 172.78,33.95 173.30,33.21 173.81,32.47 174.32,31.73 174.84,30.99 175.35,30.26 175.87,29.52 176.38,28.78 176.89,28.04 177.41,27.30 177.92,26.56 178.44,25.82 178.95,25.09 179.46,24.35 179.98,23.61 180.49,22.87 181.00,22.13 181.52,21.39 182.03,20.65 182.55,19.92 183.06,19.18 183.57,18.44 184.09,17.70 184.60,16.96 185.11,16.22 185.63,15.48 186.14,14.74 186.66,20.74 187.17,26.73 187.68,32.72 188.20,38.71 188.71,41.31 189.22,40.53 189.74,39.75 190.25,38.97 190.77,38.19 191.28,37.41 191.79,36.63 192.31,35.84 192.82,35.06 193.33,34.28 193.85,33.50 194.36,32.72 194.88,31.94 195.39,31.16 195.90,30.37 196.42,29.59 196.93,28.81 197.44,28.03 197.96,27.25 198.47,26.47 198.99,25.69 199.50,24.90 200.01,24.12 200.53,23.34 201.04,22.56 201.55,21.78 202.07,21.00 202.58,20.21 203.09,19.43 203.61,18.65 204.12,17.87 204.64,17.09 205.15,16.31 205.66,15.53 206.18,14.74 206.69,20.74 207.21,26.73 207.72,32.72 208.23,38.71 208.75,41.35 209.26,40.65 209.77,39.95 210.29,39.25 210.80,38.55 211.31,37.85 211.83,37.15 212.34,36.45 212.86,35.75 213.37,35.05 213.88,34.35 214.40,33.65 214.91,32.95 215.43,32.25 215.94,31.55 216.45,30.85 216.97,30.15 217.48,29.45 217.99,28.75 218.51,28.05 219.02,27.35 219.53,26.65 220.05,25.95 220.56,25.25 221.08,24.55 221.59,23.85 222.10,23.15 222.62,22.45 223.13,21.75 223.65,21.05 224.16,20.35 224.67,19.65 225.19,18.95 225.70,18.25 226.21,17.55 226.73,16.85 227.24,16.15 227.75,15.45 228.27,14.74 228.78,20.74 229.30,26.73 229.81,32.72 230.32,38.71 230.84,41.26 231.35,40.38 231.87,39.49 232.38,38.61 232.89,37.73 233.41,36.84 233.92,35.96 234.43,35.08 234.95,34.19 235.46,33.31 235.98,32.42 236.49,31.54 237.00,30.66 237.52,29.77 238.03,28.89 238.54,28.00 239.06,27.12 239.57,26.24 240.09,25.35 240.60,24.47 241.11,23.58 241.63,22.70 242.14,21.82 242.65,20.93 243.17,20.05 243.68,19.16 244.20,18.28 244.71,17.40 245.22,16.51 245.74,15.63 246.25,14.74 246.76,20.74 247.28,26.73 247.79,32.72 248.31,38.71 248.82,41.23 249.33,40.29 249.85,39.34 250.36,38.39 250.87,37.45 251.39,36.50 251.90,35.56 252.42,34.61 252.93,33.66 253.44,32.72 253.96,31.77 254.47,30.83 254.98,29.88 255.50,28.93 256.01,27.99 256.53,27.04 257.04,26.10 257.55,25.15 258.07,24.20 258.58,23.26 259.09,22.31 259.61,21.37 260.12,20.42 260.64,19.47 261.15,18.53 261.66,17.58 262.18,16.64 262.69,15.69 263.20,14.74 263.72,20.74 264.23,26.73 264.75,32.72 265.26,38.71 265.77,41.11 266.29,39.91 266.80,38.71" stroke="#e36f84"/>
<polyline points="20.20,129.06 20.71,130.10 21.23,131.11 21.74,132.07 22.25,132.96 22.77,133.77 23.28,134.48 23.80,135.07 24.31,135.53 24.82,135.89 25.34,136.23 25.85,136.55 26.37,136.84 26.88,137.10 27.39,137.34 27.91,137.55 28.42,137.73 28.93,137.88 29.45,138.01 29.96,138.12 30.48,138.21 30.99,138.29 31.50,138.37 32.02,138.45 32.53,138.51 33.04,138.57 33.56,138.63 34.07,138.67 34.59,138.71 35.10,138.74 35.61,138.76 36.13,138.78 36.64,138.79 37.15,138.81 37.67,138.83 38.18,138.84 38.70,138.86 39.21,138.87 39.72,138.88 40.24,138.90 40.75,138.91 41.26,138.92 41.78,138.93 42.29,138.94 42.80,138.95 43.32,138.96 43.83,138.97 44.35,138.98 44.86,138.99 45.37,138.99 45.89,139.00 46.40,139.01 46.92,139.01 47.43,139.02 47.94,139.02 48.46,139.02 48.97,139.03 49.48,139.03 50.00,139.03 50.51,139.03 51.03,139.03 51.54,139.03 52.05,139.03 52.57,139.03 53.08,139.03 53.59,139.03 54.11,139.03 54.62,139.03 55.14,139.03 55.65,139.03 56.16,139.03 56.68,139.03 57.19,139.03 57.70,139.03 58.22,139.03 58.73,139.02 59.25,139.02 59.76,139.02 60.27,139.02 60.79,139.02 61.30,139.02 61.81,139.02 62.33,139.02 62.84,139.02 63.36,139.02 63.87,139.01 64.38,139.01 64.90,139.01 65.41,139.01 65.92,139.01 66.44,139.01 66.95,139.01 67.47,139.00 67.98,139.00 68.49,139.00 69.01,139.00 69.52,139.00 70.03,138.99 70.55,138.99 71.06,138.99 71.58,138.99 72.09,138.99 72.60,138.98 73.12,138.98 73.63,138.98 74.14,138.98 74.66,138.97 75.17,138.97 75.69,138.97 76.20,138.97 76.71,138.96 77.23,138.96 77.74,138.96 78.25,138.96 78.77,138.95 79.28,138.95 79.80,138.95 80.31,138.94 80.82,138.94 81.34,138.94 81.85,138.93 82.36,138.93 82.88,138.93 83.39,138.92 83.91,138.92 84.42,138.92 84.93,138.91 85.45,138.91 85.96,138.91 86.47,138.90 86.99,138.90 87.50,138.89 88.02,138.89 88.53,138.89 89.04,138.88 89.56,138.88 90.07,138.87 90.58,138.87 91.10,138.86 91.61,138.86 92.13,138.86 92.64,138.85 93.15,138.85 93.67,138.84 94.18,138.84 94.69,138.83 95.21,138.83 95.72,138.82 96.24,138.82 96.75,138.81 97.26,138.81 97.78,138.80 98.29,138.80 98.80,138.79 99.32,138.79 99.83,138.78 100.35,138.78 100.86,138.77 101.37,138.77 101.89,138.76 102.40,138.75 102.91,138.75 103.43,138.74 103.94,138.74 104.46,138.73 104.97,138.72 105.48,138.72 106.00,138.71 106.51,138.71 107.02,138.70 107.54,138.69 108.05,138.69 108.57,138.68 109.08,138.67 109.59,138.67 110.11,138.66 110.62,138.65 111.13,138.65 111.65,138.64 112.16,138.63 112.68,138.63 113.19,138.62 113.70,138.61 114.22,138.60 114.73,138.58 115.24,138.57 115.76,138.55 116.27,138.53 116.79,138.51 117.30,138.49 117.81,138.46 118.33,138.44 118.84,138.41 119.35,138.38 119.87,138.35 120.38,138.32 120.90,138.29 121.41,138.25 121.92,138.22 122.44,138.18 122.95,138.14 123.46,138.10 123.98,138.06 124.49,138.02 125.01,137.97 125.52,137.93 126.03,137.89 126.55,137.84 127.06,137.79 127.57,137.75 128.09,137.70 128.60,137.65 129.12,137.60 129.63,137.55 130.14,137.49 130.66,137.44 131.17,137.39 131.68,137.34 132.20,137.28 132.71,137.23 133.22,137.17 133.74,137.12 134.25,137.06 134.77,137.00 135.28,136.95 135.79,136.89 136.31,136.83 136.82,136.78 137.34,136.72 137.85,136.66 138.36,136.60 138.88,136.54 139.39,136.48 139.90,136.41 140.42,136.34 140.93,136.27 141.44,136.19 141.96,136.11 142.47,136.03 142.99,135.94 143.50,135.86 144.01,135.77 144.53,135.68 145.04,135.58 145.56,135.49 146.07,135.39 146.58,135.29 147.10,135.19 147.61,135.09 148.12,134.99 148.64,134.89 149.15,134.79 149.66,134.69 150.18,134.59 150.69,134.49 151.21,134.39 151.72,134.29 152.23,134.19 152.75,134.10 153.26,134.00 153.78,133.91 154.29,133.81 154.80,133.72 155.32,133.62 155.83,133.53 156.34,133.43 156.86,133.33 157.37,133.23 157.88,133.13 158.40,133.03 158.91,132.93 159.43,132.83 159.94,132.73 160.45,132.63 160.97,132.53 161.48,132.43 162.00,132.33 162.51,132.23 163.02,132.14 163.54,132.04 164.05,131.94 164.56,131.85 165.08,131.75 165.59,131.66 166.10,131.57 166.62,131.48 167.13,131.39 167.65,131.30 168.16,131.21 168.67,131.12 169.19,131.03 169.70,130.93 170.22,130.84 170.73,130.75 171.24,130.66 171.76,130.57 172.27,130.48 172.78,130.39 173.30,130.31 173.81,130.22 174.32,130.14 174.84,130.06 175.35,129.98 175.87,129.91 176.38,129.84 176.89,129.77 177.41,129.71 177.92,129.65 178.44,129.59 178.95,129.54 179.46,129.49 179.98,129.44 180.49,129.40 181.00,129.35 181.52,129.31 182.03,129.27 182.55,129.23 183.06,129.19 183.57,129.15 184.09,129.11 184.60,129.08 185.11,129.04 185.63,129.01 186.14,128.98 186.66,128.95 187.17,128.91 187.68,128.88 188.20,128.85 188.71,128.82 189.22,128.79 189.74,128.76 190.25,128.73 190.77,128.70 191.28,128.67 191.79,128.64 192.31,128.61 192.82,128.58 193.33,128.55 193.85,128.52 194.36,128.49 194.88,128.45 195.39,128.42 195.90,128.39 196.42,128.35 196.93,128.32 197.44,128.28 197.96,128.24 198.47,128.20 198.99,128.16 199.50,128.11 200.01,128.07 200.53,128.02 201.04,127.98 201.55,127.93 202.07,127.88 202.58,127.82 203.09,127.77 203.61,127.71 204.12,127.65 204.64,127.60 205.15,127.53 205.66,127.47 206.18,127.41 206.69,127.34 207.21,127.28 207.72,127.21 208.23,127.14 208.75,127.07 209.26,127.00 209.77,126.93 210.29,126.86 210.80,126.79 211.31,126.71 211.83,126.64 212.34,126.56 212.86,126.48 213.37,126.41 213.88,126.33 214.40,126.25 214.91,126.17 215.43,126.09 215.94,126.01 216.45,125.92 216.97,125.83 217.48,125.74 217.99,125.64 218.51,125.55 219.02,125.45 219.53,125.35 220.05,125.25 220.56,125.15 221.08,125.05 221.59,124.95 222.10,124.85 222.62,124.75 223.13,124.66 223.65,124.56 224.16,124.47 224.67,124.38 225.19,124.30 225.70,124.22 226.21,124.14 226.73,124.06 227.24,123.98 227.75,123.90 228.27,123.83 228.78,123.75 229.30,123.68 229.81,123.60 230.32,123.53 230.84,123.45 231.35,123.37 231.87,123.29 232.38,123.21 232.89,123.13 233.41,123.05 233.92,122.96 234.43,122.87 234.95,122.78 235.46,122.68 235.98,122.58 236.49,122.47 237.00,122.35 237.52,122.20 238.03,122.05 238.54,121.88 239.06,121.72 239.57,121.54 240.09,121.38 240.60,121.21 241.11,121.05 241.63,120.91 242.14,120.77 242.65,120.66 243.17,120.56 243.68,120.49 244.20,120.44 244.71,120.43 245.22,120.45 245.74,120.51 246.25,120.60 246.76,120.72 247.28,120.87 247.79,121.05 248.31,121.24 248.82,121.45 249.33,121.67 249.85,121.89 250.36,122.13 250.87,122.36 251.39,122.58 251.90,122.83 252.42,123.11 252.93,123.42 253.44,123.76 253.96,124.13 254.47,124.51 254.98,124.90 255.50,125.31 256.01,125.71 256.53,126.12 257.04,126.52 257.55,126.91 258.07,127.29 258.58,127.64 259.09,127.98 259.61,128.29 260.12,128.61 260.64,128.92 261.15,129.22 261.66,129.53 262.18,129.82 262.69,130.12 263.20,130.40 263.72,130.69 264.23,130.97 264.75,131.24 265.26,131.51 265.77,131.78 266.29,132.04 266.80,132.29" stroke="#aa2aa8" stroke-dasharray="3.6,1.4,1.6,1.4" stroke-width="1.2"/>
<polyline points="20.20,129.06 20.71,130.09 21.23,131.10 21.74,132.05 22.25,132.94 22.77,133.75 23.28,134.46 23.80,135.06 24.31,135.53 24.82,135.91 25.34,136.26 25.85,136.60 26.37,136.90 26.88,137.18 27.39,137.43 27.91,137.65 28.42,137.85 28.93,138.01 29.45,138.15 29.96,138.25 30.48,138.34 30.99,138.43 31.50,138.51 32.02,138.58 32.53,138.65 33.04,138.71 33.56,138.76 34.07,138.81 34.59,138.84 35.10,138.87 35.61,138.90 36.13,138.91 36.64,138.93 37.15,138.95 37.67,138.96 38.18,138.98 38.70,138.99 39.21,139.01 39.72,139.02 40.24,139.03 40.75,139.04 41.26,139.06 41.78,139.07 42.29,139.08 42.80,139.09 43.32,139.10 43.83,139.11 44.35,139.11 44.86,139.12 45.37,139.13 45.89,139.13 46.40,139.14 46.92,139.15 47.43,139.15 47.94,139.15 48.46,139.16 48.97,139.16 49.48,139.16 50.00,139.16 50.51,139.16 51.03,139.17 51.54,139.17 52.05,139.17 52.57,139.17 53.08,139.16 53.59,139.16 54.11,139.16 54.62,139.16 55.14,139.16 55.65,139.16 56.16,139.16 56.68,139.16 57.19,139.16 57.70,139.16 58.22,139.16 58.73,139.16 59.25,139.16 59.76,139.16 60.27,139.16 60.79,139.16 61.30,139.16 61.81,139.16 62.33,139.16 62.84,139.16 63.36,139.15 63.87,139.15 64.38,139.15 64.90,139.15 65.41,139.15 65.92,139.15 66.44,139.15 66.95,139.15 67.47,139.15 67.98,139.14 68.49,139.14 69.01,139.14 69.52,139.14 70.03,139.14 70.55,139.14 71.06,139.14 71.58,139.13 72.09,139.13 72.60,139.13 73.12,139.13 73.63,139.13 74.14,139.13 74.66,139.12 75.17,139.12 75.69,139.12 76.20,139.12 76.71,139.12 77.23,139.12 77.74,139.11 78.25,139.11 78.77,139.11 79.28,139.11 79.80,139.10 80.31,139.10 80.82,139.10 81.34,139.10 81.85,139.10 82.36,139.09 82.88,139.09 83.39,139.09 83.91,139.09 84.42,139.08 84.93,139.08 85.45,139.08 85.96,139.08 86.47,139.07 86.99,139.07 87.50,139.07 88.02,139.06 88.53,139.06 89.04,139.06 89.56,139.06 90.07,139.05 90.58,139.05 91.10,139.05 91.61,139.04 92.13,139.04 92.64,139.04 93.15,139.03 93.67,139.03 94.18,139.03 94.69,139.02 95.21,139.02 95.72,139.02 96.24,139.01 96.75,139.01 97.26,139.00 97.78,139.00 98.29,139.00 98.80,138.99 99.32,138.99 99.83,138.99 100.35,138.98 100.86,138.98 101.37,138.97 101.89,138.97 102.40,138.97 102.91,138.96 103.43,138.96 103.94,138.95 104.46,138.95 104.97,138.94 105.48,138.94 106.00,138.94 106.51,138.93 107.02,138.93 107.54,138.92 108.05,138.92 108.57,138.91 109.08,138.91 109.59,138.90 110.11,138.90 110.62,138.89 111.13,138.89 111.65,138.88 112.16,138.88 112.68,138.87 113.19,138.87 113.70,138.86 114.22,138.86 114.73,138.85 115.24,138.85 115.76,138.84 116.27,138.84 116.79,138.83 117.30,138.82 117.81,138.82 118.33,138.81 118.84,138.81 119.35,138.80 119.87,138.80 120.38,138.79 120.90,138.78 121.41,138.78 121.92,138.77 122.44,138.77 122.95,138.76 123.46,138.75 123.98,138.74 124.49,138.73 125.01,138.72 125.52,138.70 126.03,138.69 126.55,138.67 127.06,138.65 127.57,138.63 128.09,138.60 128.60,138.58 129.12,138.55 129.63,138.52 130.14,138.49 130.66,138.46 131.17,138.43 131.68,138.40 132.20,138.36 132.71,138.33 133.22,138.29 133.74,138.25 134.25,138.22 134.77,138.18 135.28,138.14 135.79,138.10 136.31,138.06 136.82,138.02 137.34,137.98 137.85,137.94 138.36,137.90 138.88,137.86 139.39,137.82 139.90,137.78 140.42,137.73 140.93,137.69 141.44,137.65 141.96,137.61 142.47,137.57 142.99,137.53 143.50,137.49 144.01,137.46 144.53,137.42 145.04,137.38 145.56,137.34 146.07,137.31 146.58,137.27 147.10,137.24 147.61,137.21 148.12,137.17 148.64,137.14 149.15,137.11 149.66,137.08 150.18,137.05 150.69,137.02 151.21,136.99 151.72,136.96 152.23,136.94 152.75,136.91 153.26,136.88 153.78,136.85 154.29,136.82 154.80,136.79 155.32,136.76 155.83,136.73 156.34,136.70 156.86,136.67 157.37,136.64 157.88,136.62 158.40,136.59 158.91,136.56 159.43,136.53 159.94,136.50 160.45,136.47 160.97,136.45 161.48,136.42 162.00,136.39 162.51,136.36 163.02,136.33 163.54,136.31 164.05,136.28 164.56,136.25 165.08,136.22 165.59,136.19 166.10,136.17 166.62,136.14 167.13,136.11 167.65,136.08 168.16,136.06 168.67,136.03 169.19,136.00 169.70,135.98 170.22,135.95 170.73,135.92 171.24,135.90 171.76,135.87 172.27,135.84 172.78,135.82 173.30,135.79 173.81,135.76 174.32,135.74 174.84,135.71 175.35,135.68 175.87,135.66 176.38,135.63 176.89,135.60 177.41,135.58 177.92,135.55 178.44,135.53 178.95,135.50 179.46,135.47 179.98,135.45 180.49,135.42 181.00,135.40 181.52,135.37 182.03,135.35 182.55,135.32 183.06,135.30 183.57,135.27 184.09,135.25 184.60,135.22 185.11,135.20 185.63,135.17 186.14,135.15 186.66,135.12 187.17,135.10 187.68,135.07 188.20,135.05 188.71,135.03 189.22,135.00 189.74,134.98 190.25,134.95 190.77,134.93 191.28,134.90 191.79,134.88 192.31,134.86 192.82,134.83 193.33,134.81 193.85,134.78 194.36,134.76 194.88,134.74 195.39,134.71 195.90,134.69 196.42,134.66 196.93,134.64 197.44,134.62 197.96,134.59 198.47,134.57 198.99,134.54 199.50,134.52 200.01,134.50 200.53,134.47 201.04,134.45 201.55,134.42 202.07,134.40 202.58,134.37 203.09,134.34 203.61,134.31 204.12,134.29 204.64,134.26 205.15,134.23 205.66,134.20 206.18,134.16 206.69,134.13 207.21,134.10 207.72,134.07 208.23,134.04 208.75,134.01 209.26,133.97 209.77,133.94 210.29,133.91 210.80,133.88 211.31,133.85 211.83,133.82 212.34,133.79 212.86,133.76 213.37,133.73 213.88,133.70 214.40,133.67 214.91,133.64 215.43,133.62 215.94,133.59 216.45,133.57 216.97,133.54 217.48,133.52 217.99,133.50 218.51,133.48 219.02,133.46 219.53,133.45 220.05,133.43 220.56,133.42 221.08,133.40 221.59,133.39 222.10,133.38 222.62,133.38 223.13,133.37 223.65,133.37 224.16,133.37 224.67,133.37 225.19,133.37 225.70,133.37 226.21,133.37 226.73,133.37 227.24,133.37 227.75,133.38 228.27,133.38 228.78,133.38 229.30,133.38 229.81,133.39 230.32,133.39 230.84,133.40 231.35,133.40 231.87,133.40 232.38,133.41 232.89,133.41 233.41,133.42 233.92,133.43 234.43,133.43 234.95,133.44 235.46,133.45 235.98,133.45 236.49,133.46 237.00,133.47 237.52,133.48 238.03,133.49 238.54,133.50 239.06,133.51 239.57,133.52 240.09,133.53 240.60,133.54 241.11,133.55 241.63,133.56 242.14,133.57 242.65,133.58 243.17,133.60 243.68,133.61 244.20,133.62 244.71,133.64 245.22,133.66 245.74,133.71 246.25,133.77 246.76,133.86 247.28,133.95 247.79,134.06 248.31,134.18 248.82,134.30 249.33,134.43 249.85,134.57 250.36,134.70 250.87,134.84 251.39,134.97 251.90,135.10 252.42,135.22 252.93,135.34 253.44,135.44 253.96,135.53 254.47,135.61 254.98,135.69 255.50,135.77 256.01,135.84 256.53,135.92 257.04,136.00 257.55,136.07 258.07,136.14 258.58,136.22 259.09,136.29 259.61,136.36 260.12,136.43 260.64,136.49 261.15,136.56 261.66,136.62 262.18,136.68 262.69,136.74 263.20,136.80 263.72,136.85 264.23,136.91 264.75,136.96 265.26,137.01 265.77,137.06 266.29,137.10 266.80,137.14" stroke="#9e2d60"/>
</g>
<g font-size="5.6" fill="#262626" text-anchor="middle">
<text x="20.20" y="146.60">0</text>
<text x="45.89" y="146.60">50</text>
<text x="71.58" y="146.60">100</text>
<text x="97.26" y="146.60">150</text>
<text x="122.95" y="146.60">200</text>
<text x="148.64" y="146.60">250</text>
<text x="174.32" y="146.60">300</text>
<text x="200.01" y="146.60">350</text>
<text x="225.70" y="146.60">400</text>
<text x="251.39" y="146.60">450</text>
</g>
<g font-size="5.6" fill="#262626" text-anchor="end">
<text x="18.40" y="141.32">5</text>
<text x="18.40" y="127.84">10</text>
<text x="18.40" y="114.36">15</text>
<text x="18.40" y="100.88">20</text>
<text x="18.40" y="87.40">25</text>
<text x="18.40" y="73.92">30</text>
<text x="18.40" y="60.44">35</text>
<text x="18.40" y="46.96">40</text>
<text x="18.40" y="33.48">45</text>
<text x="18.40" y="20.00">50</text>
<text x="18.40" y="6.52">55</text>
</g>
<text x="143.5" y="155" font-size="6.2" fill="#262626" text-anchor="middle">Timestep</text>
<text transform="translate(9.3,71.1) rotate(-90)" font-size="6.2" fill="#262626" text-anchor="middle">PPD (%)</text>
<rect x="72.1" y="51.5" width="30.8" height="58.8" fill="#fff" stroke="#d6d6d6" stroke-width="0.6"/>
<line x1="73.70" y1="55.90" x2="84.30" y2="55.90" stroke="#2e2e96" stroke-width="1.2"/>
<text x="85.70" y="57.92" font-size="5.6" fill="#262626">Zone1</text>
<line x1="73.70" y1="63.23" x2="84.30" y2="63.23" stroke="#1b823a" stroke-width="1.2"/>
<text x="85.70" y="65.25" font-size="5.6" fill="#262626">Zone2</text>
<line x1="73.70" y1="70.56" x2="84.30" y2="70.56" stroke="#3cb08e" stroke-width="1.2"/>
<text x="85.70" y="72.58" font-size="5.6" fill="#262626">Zone3</text>
<line x1="73.70" y1="77.89" x2="84.30" y2="77.89" stroke="#80cff0" stroke-width="1.2"/>
<text x="85.70" y="79.91" font-size="5.6" fill="#262626">Zone4</text>
<line x1="73.70" y1="85.22" x2="84.30" y2="85.22" stroke="#dfc660" stroke-width="1.2"/>
<text x="85.70" y="87.24" font-size="5.6" fill="#262626">Zone5</text>
<line x1="73.70" y1="92.55" x2="84.30" y2="92.55" stroke="#e36f84" stroke-width="1.2"/>
<text x="85.70" y="94.57" font-size="5.6" fill="#262626">Zone6</text>
<line x1="73.70" y1="99.88" x2="84.30" y2="99.88" stroke="#aa2aa8" stroke-width="1.2" stroke-dasharray="3.6,1.4,1.6,1.4" stroke-width="1.15"/>
<text x="85.70" y="101.90" font-size="5.6" fill="#262626">Zone7</text>
<line x1="73.70" y1="107.21" x2="84.30" y2="107.21" stroke="#9e2d60" stroke-width="1.2"/>
<text x="85.70" y="109.23" font-size="5.6" fill="#262626">Zone8</text>
<rect x="300.0" y="4.5" width="246.50" height="134.80" fill="none" stroke="#b0b0b0" stroke-width="0.6"/>
<line x1="300.00" y1="139.3" x2="300.00" y2="136.8" stroke="#b0b0b0" stroke-width="0.6"/>
<line x1="300.00" y1="4.5" x2="300.00" y2="7.0" stroke="#b0b0b0" stroke-width="0.6"/>
<line x1="325.68" y1="139.3" x2="325.68" y2="136.8" stroke="#b0b0b0" stroke-width="0.6"/>
<line x1="325.68" y1="4.5" x2="325.68" y2="7.0" stroke="#b0b0b0" stroke-width="0.6"/>
<line x1="351.35" y1="139.3" x2="351.35" y2="136.8" stroke="#b0b0b0" stroke-width="0.6"/>
<line x1="351.35" y1="4.5" x2="351.35" y2="7.0" stroke="#b0b0b0" stroke-width="0.6"/>
<line x1="377.03" y1="139.3" x2="377.03" y2="136.8" stroke="#b0b0b0" stroke-width="0.6"/>
<line x1="377.03" y1="4.5" x2="377.03" y2="7.0" stroke="#b0b0b0" stroke-width="0.6"/>
<line x1="402.71" y1="139.3" x2="402.71" y2="136.8" stroke="#b0b0b0" stroke-width="0.6"/>
<line x1="402.71" y1="4.5" x2="402.71" y2="7.0" stroke="#b0b0b0" stroke-width="0.6"/>
<line x1="428.39" y1="139.3" x2="428.39" y2="136.8" stroke="#b0b0b0" stroke-width="0.6"/>
<line x1="428.39" y1="4.5" x2="428.39" y2="7.0" stroke="#b0b0b0" stroke-width="0.6"/>
<line x1="454.06" y1="139.3" x2="454.06" y2="136.8" stroke="#b0b0b0" stroke-width="0.6"/>
<line x1="454.06" y1="4.5" x2="454.06" y2="7.0" stroke="#b0b0b0" stroke-width="0.6"/>
<line x1="479.74" y1="139.3" x2="479.74" y2="136.8" stroke="#b0b0b0" stroke-width="0.6"/>
<line x1="479.74" y1="4.5" x2="479.74" y2="7.0" stroke="#b0b0b0" stroke-width="0.6"/>
<line x1="505.42" y1="139.3" x2="505.42" y2="136.8" stroke="#b0b0b0" stroke-width="0.6"/>
<line x1="505.42" y1="4.5" x2="505.42" y2="7.0" stroke="#b0b0b0" stroke-width="0.6"/>
<line x1="531.09" y1="139.3" x2="531.09" y2="136.8" stroke="#b0b0b0" stroke-width="0.6"/>
<line x1="531.09" y1="4.5" x2="531.09" y2="7.0" stroke="#b0b0b0" stroke-width="0.6"/>
<line x1="300.0" y1="139.30" x2="302.5" y2="139.30" stroke="#b0b0b0" stroke-width="0.6"/>
<line x1="546.5" y1="139.30" x2="544.0" y2="139.30" stroke="#b0b0b0" stroke-width="0.6"/>
<line x1="300.0" y1="124.32" x2="302.5" y2="124.32" stroke="#b0b0b0" stroke-width="0.6"/>
<line x1="546.5" y1="124.32" x2="544.0" y2="124.32" stroke="#b0b0b0" stroke-width="0.6"/>
<line x1="300.0" y1="109.34" x2="302.5" y2="109.34" stroke="#b0b0b0" stroke-width="0.6"/>
<line x1="546.5" y1="109.34" x2="544.0" y2="109.34" stroke="#b0b0b0" stroke-width="0.6"/>
<line x1="300.0" y1="94.37" x2="302.5" y2="94.37" stroke="#b0b0b0" stroke-width="0.6"/>
<line x1="546.5" y1="94.37" x2="544.0" y2="94.37" stroke="#b0b0b0" stroke-width="0.6"/>
<line x1="300.0" y1="79.39" x2="302.5" y2="79.39" stroke="#b0b0b0" stroke-width="0.6"/>
<line x1="546.5" y1="79.39" x2="544.0" y2="79.39" stroke="#b0b0b0" stroke-width="0.6"/>
<line x1="300.0" y1="64.41" x2="302.5" y2="64.41" stroke="#b0b0b0" stroke-width="0.6"/>
<line x1="546.5" y1="64.41" x2="544.0" y2="64.41" stroke="#b0b0b0" stroke-width="0.6"/>
<line x1="300.0" y1="49.43" x2="302.5" y2="49.43" stroke="#b0b0b0" stroke-width="0.6"/>
<line x1="546.5" y1="49.43" x2="544.0" y2="49.43" stroke="#b0b0b0" stroke-width="0.6"/>
<line x1="300.0" y1="34.46" x2="302.5" y2="34.46" stroke="#b0b0b0" stroke-width="0.6"/>
<line x1="546.5" y1="34.46" x2="544.0" y2="34.46" stroke="#b0b0b0" stroke-width="0.6"/>
<line x1="300.0" y1="19.48" x2="302.5" y2="19.48" stroke="#b0b0b0" stroke-width="0.6"/>
<line x1="546.5" y1="19.48" x2="544.0" y2="19.48" stroke="#b0b0b0" stroke-width="0.6"/>
<line x1="300.0" y1="4.50" x2="302.5" y2="4.50" stroke="#b0b0b0" stroke-width="0.6"/>
<line x1="546.5" y1="4.50" x2="544.0" y2="4.50" stroke="#b0b0b0" stroke-width="0.6"/>
<g fill="none" stroke-linejoin="round" stroke-width="1.4">
<polyline points="300.00,72.95 300.51,74.28 301.03,75.59 301.54,76.89 302.05,78.17 302.57,79.43 303.08,80.67 303.59,81.88 304.11,83.07 304.62,84.23 305.14,85.35 305.65,86.45 306.16,87.53 306.68,88.61 307.19,89.67 307.70,90.73 308.22,91.77 308.73,92.80 309.24,93.81 309.76,94.81 310.27,95.78 310.78,96.74 311.30,97.68 311.81,98.60 312.32,99.49 312.84,100.36 313.35,101.21 313.87,102.03 314.38,102.82 314.89,103.59 315.41,104.35 315.92,105.11 316.43,105.85 316.95,106.59 317.46,107.31 317.97,108.02 318.49,108.71 319.00,109.38 319.51,110.04 320.03,110.68 320.54,111.29 321.06,111.89 321.57,112.46 322.08,113.00 322.60,113.51 323.11,114.00 323.62,114.46 324.14,114.88 324.65,115.30 325.16,115.70 325.68,116.09 326.19,116.46 326.70,116.82 327.22,117.17 327.73,117.51 328.24,117.84 328.76,118.16 329.27,118.46 329.79,118.76 330.30,119.05 330.81,119.33 331.33,119.60 331.84,119.86 332.35,120.11 332.87,120.36 333.38,120.59 333.89,120.82 334.41,121.04 334.92,121.25 335.43,121.46 335.95,121.65 336.46,121.84 336.98,122.03 337.49,122.21 338.00,122.39 338.52,122.57 339.03,122.74 339.54,122.92 340.06,123.09 340.57,123.27 341.08,123.44 341.60,123.62 342.11,123.80 342.62,123.98 343.14,124.17 343.65,124.35 344.16,124.53 344.68,124.72 345.19,124.90 345.71,125.08 346.22,125.26 346.73,125.44 347.25,125.62 347.76,125.80 348.27,125.98 348.79,126.15 349.30,126.33 349.81,126.50 350.33,126.68 350.84,126.85 351.35,127.02 351.87,127.18 352.38,127.34 352.89,127.50 353.41,127.65 353.92,127.80 354.44,127.95 354.95,128.11 355.46,128.27 355.98,128.44 356.49,128.62 357.00,128.82 357.52,129.05 358.03,129.32 358.54,129.59 359.06,129.83 359.57,130.01 360.08,130.15 360.60,130.27 361.11,130.31 361.62,131.06 362.14,129.00 362.65,126.94 363.17,124.88 363.68,122.82 364.19,123.07 364.71,123.32 365.22,123.57 365.73,123.82 366.25,124.07 366.76,124.32 367.27,124.57 367.79,124.82 368.30,125.07 368.81,125.32 369.33,125.57 369.84,125.82 370.36,126.07 370.87,126.32 371.38,126.57 371.90,126.82 372.41,127.07 372.92,127.32 373.44,127.57 373.95,127.82 374.46,128.07 374.98,128.32 375.49,128.57 376.00,128.82 376.52,129.07 377.03,129.31 377.54,129.56 378.06,129.81 378.57,130.06 379.09,130.31 379.60,130.56 380.11,130.81 380.63,131.06 381.14,129.00 381.65,126.94 382.17,124.88 382.68,122.82 383.19,123.04 383.71,123.25 384.22,123.46 384.73,123.67 385.25,123.88 385.76,124.09 386.27,124.30 386.79,124.51 387.30,124.73 387.82,124.94 388.33,125.15 388.84,125.36 389.36,125.57 389.87,125.78 390.38,125.99 390.90,126.20 391.41,126.42 391.92,126.63 392.44,126.84 392.95,127.05 393.46,127.26 393.98,127.47 394.49,127.68 395.01,127.89 395.52,128.11 396.03,128.32 396.55,128.53 397.06,128.74 397.57,128.95 398.09,129.16 398.60,129.37 399.11,129.58 399.63,129.79 400.14,130.01 400.65,130.22 401.17,130.43 401.68,130.64 402.19,130.85 402.71,131.06 403.22,129.00 403.74,126.94 404.25,124.88 404.76,122.82 405.28,122.84 405.79,122.88 406.30,122.96 406.82,123.05 407.33,123.17 407.84,123.31 408.36,123.47 408.87,123.64 409.38,123.82 409.90,124.01 410.41,124.21 410.93,124.41 411.44,124.62 411.95,124.83 412.47,125.03 412.98,125.23 413.49,125.43 414.01,125.61 414.52,125.78 415.03,125.93 415.55,126.07 416.06,126.19 416.57,126.29 417.09,126.36 417.60,126.40 418.11,126.42 418.63,126.41 419.14,126.40 419.66,126.38 420.17,126.35 420.68,126.31 421.20,126.27 421.71,126.24 422.22,126.19 422.74,126.16 423.25,126.12 423.76,126.08 424.28,126.05 424.79,126.01 425.30,125.98 425.82,125.94 426.33,125.90 426.84,125.86 427.36,125.82 427.87,125.78 428.39,125.74 428.90,125.70 429.41,125.65 429.93,125.61 430.44,125.57 430.95,125.52 431.47,125.48 431.98,125.43 432.49,125.39 433.01,125.34 433.52,125.30 434.03,125.25 434.55,125.20 435.06,125.16 435.58,125.11 436.09,125.06 436.60,125.01 437.12,124.96 437.63,124.92 438.14,124.87 438.66,124.82 439.17,124.77 439.68,124.72 440.20,124.67 440.71,124.62 441.22,124.57 441.74,124.52 442.25,124.47 442.76,124.42 443.28,124.37 443.79,124.32 444.31,124.27 444.82,124.22 445.33,124.16 445.85,124.10 446.36,124.03 446.87,123.96 447.39,123.90 447.90,123.83 448.41,123.75 448.93,123.68 449.44,123.61 449.95,123.53 450.47,123.46 450.98,123.39 451.49,123.31 452.01,123.24 452.52,123.17 453.04,123.10 453.55,123.03 454.06,122.96 454.58,122.89 455.09,122.83 455.60,122.77 456.12,122.71 456.63,122.66 457.14,122.61 457.66,122.56 458.17,122.52 458.68,122.48 459.20,122.45 459.71,122.43 460.23,122.40 460.74,122.39 461.25,122.38 461.77,122.38 462.28,122.38 462.79,122.38 463.31,122.39 463.82,122.40 464.33,122.41 464.85,122.43 465.36,122.45 465.87,122.47 466.39,122.49 466.90,122.51 467.41,122.54 467.93,122.57 468.44,122.60 468.96,122.63 469.47,122.66 469.98,122.69 470.50,122.72 471.01,122.76 471.52,122.79 472.04,122.83 472.55,122.86 473.06,122.90 473.58,122.94 474.09,122.97 474.60,123.01 475.12,123.04 475.63,123.07 476.14,123.11 476.66,123.14 477.17,123.17 477.69,123.20 478.20,123.23 478.71,123.26 479.23,123.29 479.74,123.31 480.25,123.33 480.77,123.35 481.28,123.37 481.79,123.39 482.31,123.40 482.82,123.41 483.33,123.42 483.85,123.42 484.36,123.42 484.88,123.42 485.39,123.41 485.90,123.39 486.42,123.36 486.93,123.32 487.44,123.28 487.96,123.23 488.47,123.17 488.98,123.11 489.50,123.04 490.01,122.96 490.52,122.88 491.04,122.80 491.55,122.71 492.06,122.62 492.58,122.52 493.09,122.42 493.61,122.32 494.12,122.21 494.63,122.10 495.15,121.99 495.66,121.88 496.17,121.76 496.69,121.65 497.20,121.53 497.71,121.41 498.23,121.30 498.74,121.18 499.25,121.06 499.77,120.95 500.28,120.83 500.79,120.72 501.31,120.61 501.82,120.50 502.34,120.39 502.85,120.29 503.36,120.19 503.88,120.09 504.39,119.99 504.90,119.91 505.42,119.82 505.93,119.74 506.44,119.67 506.96,119.60 507.47,119.53 507.98,119.47 508.50,119.42 509.01,119.38 509.52,119.34 510.04,119.30 510.55,119.26 511.07,119.22 511.58,119.18 512.09,119.14 512.61,119.10 513.12,119.06 513.63,119.02 514.15,118.98 514.66,118.94 515.17,118.90 515.69,118.87 516.20,118.83 516.71,118.80 517.23,118.77 517.74,118.74 518.26,118.71 518.77,118.68 519.28,118.65 519.80,118.63 520.31,118.60 520.82,118.58 521.34,118.56 521.85,118.54 522.36,118.53 522.88,118.51 523.39,118.50 523.90,118.49 524.42,118.49 524.93,118.48 525.44,118.48 525.96,118.50 526.47,118.55 526.99,118.62 527.50,118.73 528.01,118.86 528.53,119.01 529.04,119.18 529.55,119.38 530.07,119.59 530.58,119.81 531.09,120.04 531.61,120.29 532.12,120.54 532.63,120.80 533.15,121.06 533.66,121.33 534.17,121.64 534.69,122.06 535.20,122.57 535.72,123.15 536.23,123.79 536.74,124.47 537.26,125.19 537.77,125.93 538.28,126.67 538.80,127.41 539.31,128.13 539.82,128.81 540.34,129.45 540.85,130.02 541.36,130.52 541.88,130.94 542.39,131.25 542.91,131.44 543.42,131.51 543.93,131.48 544.45,131.37 544.96,131.19 545.47,130.96 545.99,130.66 546.50,130.31" stroke="#2e2e96"/>
<polyline points="300.00,72.95 300.51,75.60 301.03,78.15 301.54,80.58 302.05,82.90 302.57,85.08 303.08,87.11 303.59,89.02 304.11,90.84 304.62,92.62 305.14,94.42 305.65,96.27 306.16,98.16 306.68,100.09 307.19,102.02 307.70,103.92 308.22,105.76 308.73,107.53 309.24,109.19 309.76,110.71 310.27,112.10 310.78,113.42 311.30,114.66 311.81,115.85 312.32,116.99 312.84,118.08 313.35,119.14 313.87,120.17 314.38,121.18 314.89,122.16 315.41,123.11 315.92,124.02 316.43,124.89 316.95,125.74 317.46,126.57 317.97,127.38 318.49,128.17 319.00,128.94 319.51,129.69 320.03,130.42 320.54,131.13 321.06,131.81 321.57,128.92 322.08,126.02 322.60,123.12 323.11,124.13 323.62,125.14 324.14,126.15 324.65,127.16 325.16,128.17 325.68,129.18 326.19,130.19 326.70,131.21 327.22,130.65 327.73,127.76 328.24,124.86 328.76,123.50 329.27,124.45 329.79,125.39 330.30,126.33 330.81,127.28 331.33,128.22 331.84,129.17 332.35,130.11 332.87,131.06 333.38,131.23 333.89,128.34 334.41,125.44 334.92,123.32 335.43,124.31 335.95,125.30 336.46,126.28 336.98,127.27 337.49,128.26 338.00,129.24 338.52,130.23 339.03,131.22 339.54,130.65 340.06,127.76 340.57,124.86 341.08,123.49 341.60,124.42 342.11,125.34 342.62,126.27 343.14,127.19 343.65,128.11 344.16,129.04 344.68,129.96 345.19,130.89 345.71,131.81 346.22,128.92 346.73,126.02 347.25,123.12 347.76,124.15 348.27,125.17 348.79,126.19 349.30,127.21 349.81,128.23 350.33,129.26 350.84,130.28 351.35,131.30 351.87,130.36 352.38,127.47 352.89,124.57 353.41,123.61 353.92,124.57 354.44,125.54 354.95,126.50 355.46,127.47 355.98,128.43 356.49,129.40 357.00,130.36 357.52,131.33 358.03,130.36 358.54,127.47 359.06,124.57 359.57,123.63 360.08,124.64 360.60,125.65 361.11,126.66 361.62,127.67 362.14,128.68 362.65,129.69 363.17,130.70 363.68,131.71 364.19,129.20 364.71,126.31 365.22,123.41 365.73,123.97 366.25,124.92 366.76,125.86 367.27,126.81 367.79,127.75 368.30,128.70 368.81,129.64 369.33,130.58 369.84,131.53 370.36,129.78 370.87,126.89 371.38,123.99 371.90,123.82 372.41,124.80 372.92,125.79 373.44,126.78 373.95,127.76 374.46,128.75 374.98,129.74 375.49,130.73 376.00,131.71 376.52,129.20 377.03,126.31 377.54,123.41 378.06,123.96 378.57,124.88 379.09,125.80 379.60,126.73 380.11,127.65 380.63,128.58 381.14,129.50 381.65,130.42 382.17,131.35 382.68,130.36 383.19,127.47 383.71,124.57 384.22,123.64 384.73,124.66 385.25,125.68 385.76,126.70 386.27,127.72 386.79,128.75 387.30,129.77 387.82,130.79 388.33,131.81 388.84,128.92 389.36,126.02 389.87,123.12 390.38,124.09 390.90,125.05 391.41,126.02 391.92,126.98 392.44,127.95 392.95,128.92 393.46,129.88 393.98,130.85 394.49,131.81 395.01,128.92 395.52,126.02 396.03,123.12 396.55,124.13 397.06,125.14 397.57,126.15 398.09,127.16 398.60,128.17 399.11,129.18 399.63,130.19 400.14,131.21 400.65,130.65 401.17,127.76 401.68,124.86 402.19,123.50 402.71,124.45 403.22,125.39 403.74,126.33 404.25,127.28 404.76,128.22 405.28,129.17 405.79,130.11 406.30,131.06 406.82,131.23 407.33,128.34 407.84,125.44 408.36,123.32 408.87,124.31 409.38,125.30 409.90,126.28 410.41,127.27 410.93,128.26 411.44,129.24 411.95,130.23 412.47,131.22 412.98,130.65 413.49,127.76 414.01,124.86 414.52,123.49 415.03,124.42 415.55,125.34 416.06,126.27 416.57,127.19 417.09,128.11 417.60,129.04 418.11,129.96 418.63,130.89 419.14,131.81 419.66,128.92 420.17,126.02 420.68,123.12 421.20,124.15 421.71,125.17 422.22,126.19 422.74,127.21 423.25,128.23 423.76,129.26 424.28,130.28 424.79,131.30 425.30,130.36 425.82,127.47 426.33,124.57 426.84,123.61 427.36,124.57 427.87,125.54 428.39,126.50 428.90,127.47 429.41,128.43 429.93,129.40 430.44,130.36 430.95,131.33 431.47,130.36 431.98,127.47 432.49,124.57 433.01,123.63 433.52,124.64 434.03,125.65 434.55,126.66 435.06,127.67 435.58,128.68 436.09,129.69 436.60,130.70 437.12,131.71 437.63,129.20 438.14,126.31 438.66,123.41 439.17,123.97 439.68,124.92 440.20,125.86 440.71,126.81 441.22,127.75 441.74,128.70 442.25,129.64 442.76,130.58 443.28,131.53 443.79,129.78 444.31,126.89 444.82,123.99 445.33,123.82 445.85,124.80 446.36,125.79 446.87,126.78 447.39,127.76 447.90,128.75 448.41,129.74 448.93,130.73 449.44,131.71 449.95,129.20 450.47,126.31 450.98,123.41 451.49,123.96 452.01,124.88 452.52,125.80 453.04,126.73 453.55,127.65 454.06,128.58 454.58,129.50 455.09,130.42 455.60,131.35 456.12,130.36 456.63,127.47 457.14,124.57 457.66,123.64 458.17,124.66 458.68,125.68 459.20,126.70 459.71,127.72 460.23,128.75 460.74,129.77 461.25,130.79 461.77,131.81 462.28,128.92 462.79,126.02 463.31,123.12 463.82,124.09 464.33,125.05 464.85,126.02 465.36,126.98 465.87,127.95 466.39,128.92 466.90,129.88 467.41,130.85 467.93,131.81 468.44,128.92 468.96,126.02 469.47,123.12 469.98,124.13 470.50,125.14 471.01,126.15 471.52,127.16 472.04,128.17 472.55,129.18 473.06,130.19 473.58,131.21 474.09,130.65 474.60,127.76 475.12,124.86 475.63,123.50 476.14,124.45 476.66,125.39 477.17,126.33 477.69,127.28 478.20,128.22 478.71,129.17 479.23,130.11 479.74,131.06 480.25,131.23 480.77,128.34 481.28,125.44 481.79,123.32 482.31,124.31 482.82,125.30 483.33,126.28 483.85,127.27 484.36,128.26 484.88,129.24 485.39,130.23 485.90,131.22 486.42,130.65 486.93,127.76 487.44,124.86 487.96,123.49 488.47,124.42 488.98,125.34 489.50,126.27 490.01,127.19 490.52,128.11 491.04,129.04 491.55,129.96 492.06,130.89 492.58,131.81 493.09,128.92 493.61,126.02 494.12,123.12 494.63,124.15 495.15,125.17 495.66,126.19 496.17,127.21 496.69,128.23 497.20,129.26 497.71,130.28 498.23,131.30 498.74,130.36 499.25,127.47 499.77,124.57 500.28,123.61 500.79,124.57 501.31,125.54 501.82,126.50 502.34,127.47 502.85,128.43 503.36,129.40 503.88,130.36 504.39,131.33 504.90,130.36 505.42,127.47 505.93,124.57 506.44,123.63 506.96,124.64 507.47,125.65 507.98,126.66 508.50,127.67 509.01,128.68 509.52,129.69 510.04,130.70 510.55,131.71 511.07,129.20 511.58,126.31 512.09,123.41 512.61,123.97 513.12,124.92 513.63,125.86 514.15,126.81 514.66,127.75 515.17,128.70 515.69,129.64 516.20,130.58 516.71,131.53 517.23,129.78 517.74,126.89 518.26,123.99 518.77,123.82 519.28,124.80 519.80,125.79 520.31,126.78 520.82,127.76 521.34,128.75 521.85,129.74 522.36,130.73 522.88,131.71 523.39,129.20 523.90,126.31 524.42,123.41 524.93,123.96 525.44,124.88 525.96,125.80 526.47,126.73 526.99,127.65 527.50,128.58 528.01,129.50 528.53,130.42 529.04,131.35 529.55,130.36 530.07,127.47 530.58,124.57 531.09,123.64 531.61,124.66 532.12,125.68 532.63,126.70 533.15,127.72 533.66,128.75 534.17,129.77 534.69,130.79 535.20,131.81 535.72,128.92 536.23,126.02 536.74,123.12 537.26,124.09 537.77,125.05 538.28,126.02 538.80,126.98 539.31,127.95 539.82,128.92 540.34,129.88 540.85,130.85 541.36,131.81 541.88,128.92 542.39,126.02 542.91,123.12 543.42,124.13 543.93,125.14 544.45,126.15 544.96,127.16 545.47,128.17 545.99,129.18 546.50,130.19" stroke="#1b823a"/>
<polyline points="300.00,63.66 300.51,62.44 301.03,61.26 301.54,60.13 302.05,59.06 302.57,58.03 303.08,57.05 303.59,56.11 304.11,55.21 304.62,54.36 305.14,53.54 305.65,52.76 306.16,52.01 306.68,51.30 307.19,50.62 307.70,49.97 308.22,49.34 308.73,48.75 309.24,48.18 309.76,47.64 310.27,47.12 310.78,46.62 311.30,46.15 311.81,45.69 312.32,45.26 312.84,44.85 313.35,44.45 313.87,44.07 314.38,43.71 314.89,43.37 315.41,43.04 315.92,42.72 316.43,42.42 316.95,42.14 317.46,41.86 317.97,41.60 318.49,41.35 319.00,41.11 319.51,40.88 320.03,40.66 320.54,40.45 321.06,40.25 321.57,40.06 322.08,39.88 322.60,39.70 323.11,39.54 323.62,39.38 324.14,39.23 324.65,39.08 325.16,38.94 325.68,38.81 326.19,38.68 326.70,38.56 327.22,38.44 327.73,38.33 328.24,38.23 328.76,38.13 329.27,38.03 329.79,37.94 330.30,37.85 330.81,37.77 331.33,37.68 331.84,37.61 332.35,37.53 332.87,37.46 333.38,37.40 333.89,37.33 334.41,37.27 334.92,37.21 335.43,37.16 335.95,37.10 336.46,37.05 336.98,37.00 337.49,36.96 338.00,36.91 338.52,36.87 339.03,36.83 339.54,36.79 340.06,36.75 340.57,36.72 341.08,36.68 341.60,36.65 342.11,36.62 342.62,36.59 343.14,36.56 343.65,36.54 344.16,36.51 344.68,36.48 345.19,36.46 345.71,36.44 346.22,36.42 346.73,36.40 347.25,36.38 347.76,36.36 348.27,36.34 348.79,36.33 349.30,36.31 349.81,36.28 350.33,36.25 350.84,36.22 351.35,36.18 351.87,36.14 352.38,36.10 352.89,36.06 353.41,36.03 353.92,36.00 354.44,35.97 354.95,35.96 355.46,35.95 355.98,35.95 356.49,35.96 357.00,35.96 357.52,35.96 358.03,35.97 358.54,35.98 359.06,35.98 359.57,35.99 360.08,36.00 360.60,36.01 361.11,36.02 361.62,36.03 362.14,36.04 362.65,36.05 363.17,36.07 363.68,36.08 364.19,36.09 364.71,36.10 365.22,36.12 365.73,36.13 366.25,36.14 366.76,36.15 367.27,36.16 367.79,36.18 368.30,36.19 368.81,36.20 369.33,36.21 369.84,36.22 370.36,36.22 370.87,36.23 371.38,36.24 371.90,36.24 372.41,36.25 372.92,36.25 373.44,36.25 373.95,36.25 374.46,36.24 374.98,36.22 375.49,36.17 376.00,36.11 376.52,36.04 377.03,35.95 377.54,35.85 378.06,35.74 378.57,35.62 379.09,35.49 379.60,35.35 380.11,35.20 380.63,35.05 381.14,34.89 381.65,34.72 382.17,34.56 382.68,34.39 383.19,34.21 383.71,34.04 384.22,33.87 384.73,33.70 385.25,33.53 385.76,33.37 386.27,33.21 386.79,33.05 387.30,32.90 387.82,32.76 388.33,32.63 388.84,32.51 389.36,32.40 389.87,32.30 390.38,32.21 390.90,32.13 391.41,32.05 391.92,31.98 392.44,31.91 392.95,31.85 393.46,31.78 393.98,31.72 394.49,31.67 395.01,31.61 395.52,31.56 396.03,31.51 396.55,31.46 397.06,31.41 397.57,31.36 398.09,31.31 398.60,31.27 399.11,31.22 399.63,31.17 400.14,31.13 400.65,31.08 401.17,31.04 401.68,30.99 402.19,30.94 402.71,30.89 403.22,30.84 403.74,30.79 404.25,30.74 404.76,30.68 405.28,30.62 405.79,30.56 406.30,30.50 406.82,30.43 407.33,30.36 407.84,30.29 408.36,30.21 408.87,30.13 409.38,30.05 409.90,29.96 410.41,29.87 410.93,29.76 411.44,29.64 411.95,29.51 412.47,29.38 412.98,29.24 413.49,29.08 414.01,28.93 414.52,28.76 415.03,28.60 415.55,28.42 416.06,28.25 416.57,28.07 417.09,27.88 417.60,27.70 418.11,27.52 418.63,27.33 419.14,27.15 419.66,26.97 420.17,26.78 420.68,26.59 421.20,26.39 421.71,26.19 422.22,25.98 422.74,25.76 423.25,25.55 423.76,25.32 424.28,25.10 424.79,24.87 425.30,24.64 425.82,24.40 426.33,24.17 426.84,23.93 427.36,23.69 427.87,23.46 428.39,23.22 428.90,22.98 429.41,22.75 429.93,22.51 430.44,22.28 430.95,22.05 431.47,21.83 431.98,21.61 432.49,21.39 433.01,21.17 433.52,20.97 434.03,20.76 434.55,20.57 435.06,20.38 435.58,20.19 436.09,20.00 436.60,19.80 437.12,19.61 437.63,19.41 438.14,19.22 438.66,19.02 439.17,18.82 439.68,18.62 440.20,18.42 440.71,18.22 441.22,18.02 441.74,17.82 442.25,17.62 442.76,17.42 443.28,17.22 443.79,17.03 444.31,16.83 444.82,16.64 445.33,16.45 445.85,16.27 446.36,16.08 446.87,15.90 447.39,15.72 447.90,15.55 448.41,15.38 448.93,15.21 449.44,15.05 449.95,14.89 450.47,14.74 450.98,14.59 451.49,14.45 452.01,14.31 452.52,14.18 453.04,14.05 453.55,13.93 454.06,13.82 454.58,13.71 455.09,13.62 455.60,13.52 456.12,13.44 456.63,13.37 457.14,13.30 457.66,13.24 458.17,13.19 458.68,13.14 459.20,13.10 459.71,13.06 460.23,13.02 460.74,12.98 461.25,12.95 461.77,12.91 462.28,12.88 462.79,12.85 463.31,12.82 463.82,12.79 464.33,12.77 464.85,12.74 465.36,12.72 465.87,12.69 466.39,12.67 466.90,12.65 467.41,12.63 467.93,12.61 468.44,12.58 468.96,12.56 469.47,12.55 469.98,12.53 470.50,12.51 471.01,12.49 471.52,12.47 472.04,12.45 472.55,12.43 473.06,12.41 473.58,12.39 474.09,12.36 474.60,12.34 475.12,12.32 475.63,12.30 476.14,12.27 476.66,12.24 477.17,12.22 477.69,12.19 478.20,12.16 478.71,12.13 479.23,12.10 479.74,12.06 480.25,12.03 480.77,11.99 481.28,11.95 481.79,11.91 482.31,11.87 482.82,11.82 483.33,11.78 483.85,11.73 484.36,11.68 484.88,11.63 485.39,11.58 485.90,11.52 486.42,11.47 486.93,11.41 487.44,11.35 487.96,11.30 488.47,11.24 488.98,11.17 489.50,11.11 490.01,11.05 490.52,10.98 491.04,10.92 491.55,10.85 492.06,10.78 492.58,10.71 493.09,10.64 493.61,10.57 494.12,10.50 494.63,10.43 495.15,10.35 495.66,10.28 496.17,10.20 496.69,10.13 497.20,10.05 497.71,9.97 498.23,9.89 498.74,9.81 499.25,9.73 499.77,9.65 500.28,9.57 500.79,9.49 501.31,9.41 501.82,9.33 502.34,9.24 502.85,9.16 503.36,9.08 503.88,8.99 504.39,8.91 504.90,8.81 505.42,8.71 505.93,8.60 506.44,8.48 506.96,8.36 507.47,8.23 507.98,8.10 508.50,7.96 509.01,7.82 509.52,7.68 510.04,7.53 510.55,7.38 511.07,7.23 511.58,7.08 512.09,6.93 512.61,6.78 513.12,6.63 513.63,6.48 514.15,6.33 514.66,6.18 515.17,6.04 515.69,5.90 516.20,5.76 516.71,5.63 517.23,5.50 517.74,5.38 518.26,5.26 518.77,5.15 519.28,5.04 519.80,4.95 520.31,4.86 520.82,4.78 521.34,4.71 521.85,4.65 522.36,4.60 522.88,4.55 523.39,4.52 523.90,4.51 524.42,4.50 524.93,4.51 525.44,4.55 525.96,4.61 526.47,4.70 526.99,4.81 527.50,4.93 528.01,5.08 528.53,5.24 529.04,5.42 529.55,5.62 530.07,5.83 530.58,6.05 531.09,6.29 531.61,6.53 532.12,6.79 532.63,7.05 533.15,7.32 533.66,7.59 534.17,7.87 534.69,8.15 535.20,8.43 535.72,8.71 536.23,8.99 536.74,9.29 537.26,9.60 537.77,9.94 538.28,10.31 538.80,10.69 539.31,11.10 539.82,11.52 540.34,11.97 540.85,12.44 541.36,12.92 541.88,13.42 542.39,13.94 542.91,14.47 543.42,15.02 543.93,15.59 544.45,16.17 544.96,16.76 545.47,17.36 545.99,17.98 546.50,18.73" stroke="#3cb08e"/>
<polyline points="300.00,63.66 300.51,62.44 301.03,61.26 301.54,60.13 302.05,59.06 302.57,58.03 303.08,57.05 303.59,56.11 304.11,55.21 304.62,54.36 305.14,53.54 305.65,52.76 306.16,52.01 306.68,51.30 307.19,50.62 307.70,49.97 308.22,49.34 308.73,48.75 309.24,48.18 309.76,47.64 310.27,47.12 310.78,46.62 311.30,46.15 311.81,45.69 312.32,45.26 312.84,44.85 313.35,44.45 313.87,44.07 314.38,43.71 314.89,43.37 315.41,43.04 315.92,42.72 316.43,42.42 316.95,42.14 317.46,41.86 317.97,41.60 318.49,41.35 319.00,41.11 319.51,40.88 320.03,40.66 320.54,40.45 321.06,40.25 321.57,40.06 322.08,39.88 322.60,39.70 323.11,39.54 323.62,39.38 324.14,39.23 324.65,39.08 325.16,38.94 325.68,38.81 326.19,38.68 326.70,38.56 327.22,38.44 327.73,38.33 328.24,38.23 328.76,38.13 329.27,38.03 329.79,37.94 330.30,37.85 330.81,37.77 331.33,37.68 331.84,37.61 332.35,37.53 332.87,37.46 333.38,37.40 333.89,37.33 334.41,37.27 334.92,37.21 335.43,37.16 335.95,37.10 336.46,37.05 336.98,37.00 337.49,36.96 338.00,36.91 338.52,36.87 339.03,36.83 339.54,36.79 340.06,36.75 340.57,36.72 341.08,36.68 341.60,36.65 342.11,36.62 342.62,36.59 343.14,36.56 343.65,36.54 344.16,36.51 344.68,36.48 345.19,36.46 345.71,36.44 346.22,36.42 346.73,36.40 347.25,36.38 347.76,36.36 348.27,36.34 348.79,36.33 349.30,36.31 349.81,36.28 350.33,36.25 350.84,36.22 351.35,36.18 351.87,36.14 352.38,36.10 352.89,36.06 353.41,36.03 353.92,36.00 354.44,35.97 354.95,35.96 355.46,35.95 355.98,35.95 356.49,35.95 357.00,35.96 357.52,35.96 358.03,35.96 358.54,35.96 359.06,35.97 359.57,35.97 360.08,35.97 360.60,35.98 361.11,35.98 361.62,35.99 362.14,36.00 362.65,36.00 363.17,36.01 363.68,36.02 364.19,36.02 364.71,36.03 365.22,36.04 365.73,36.05 366.25,36.06 366.76,36.07 367.27,36.08 367.79,36.09 368.30,36.10 368.81,36.12 369.33,36.13 369.84,36.14 370.36,36.15 370.87,36.17 371.38,36.18 371.90,36.19 372.41,36.21 372.92,36.22 373.44,36.24 373.95,36.25 374.46,36.28 374.98,36.31 375.49,36.37 376.00,36.43 376.52,36.50 377.03,36.59 377.54,36.69 378.06,36.79 378.57,36.90 379.09,37.02 379.60,37.15 380.11,37.27 380.63,37.41 381.14,37.54 381.65,37.68 382.17,37.81 382.68,37.95 383.19,38.08 383.71,38.22 384.22,38.34 384.73,38.47 385.25,38.59 385.76,38.70 386.27,38.80 386.79,38.90 387.30,38.99 387.82,39.06 388.33,39.13 388.84,39.18 389.36,39.22 389.87,39.24 390.38,39.25 390.90,39.25 391.41,39.24 391.92,39.24 392.44,39.23 392.95,39.22 393.46,39.20 393.98,39.19 394.49,39.17 395.01,39.15 395.52,39.13 396.03,39.10 396.55,39.07 397.06,39.05 397.57,39.02 398.09,38.98 398.60,38.95 399.11,38.91 399.63,38.88 400.14,38.84 400.65,38.80 401.17,38.76 401.68,38.71 402.19,38.67 402.71,38.63 403.22,38.58 403.74,38.53 404.25,38.48 404.76,38.43 405.28,38.38 405.79,38.33 406.30,38.28 406.82,38.23 407.33,38.17 407.84,38.12 408.36,38.07 408.87,38.01 409.38,37.96 409.90,37.90 410.41,37.84 410.93,37.77 411.44,37.69 411.95,37.61 412.47,37.51 412.98,37.42 413.49,37.31 414.01,37.20 414.52,37.09 415.03,36.98 415.55,36.86 416.06,36.74 416.57,36.63 417.09,36.51 417.60,36.39 418.11,36.28 418.63,36.17 419.14,36.06 419.66,35.95 420.17,35.85 420.68,35.75 421.20,35.66 421.71,35.56 422.22,35.47 422.74,35.37 423.25,35.28 423.76,35.18 424.28,35.09 424.79,35.00 425.30,34.91 425.82,34.82 426.33,34.72 426.84,34.63 427.36,34.54 427.87,34.44 428.39,34.35 428.90,34.25 429.41,34.15 429.93,34.06 430.44,33.95 430.95,33.85 431.47,33.75 431.98,33.64 432.49,33.54 433.01,33.43 433.52,33.31 434.03,33.20 434.55,33.08 435.06,32.96 435.58,32.83 436.09,32.70 436.60,32.55 437.12,32.40 437.63,32.24 438.14,32.08 438.66,31.91 439.17,31.73 439.68,31.55 440.20,31.37 440.71,31.18 441.22,30.98 441.74,30.79 442.25,30.59 442.76,30.39 443.28,30.18 443.79,29.98 444.31,29.77 444.82,29.56 445.33,29.36 445.85,29.15 446.36,28.94 446.87,28.74 447.39,28.53 447.90,28.33 448.41,28.14 448.93,27.94 449.44,27.75 449.95,27.56 450.47,27.38 450.98,27.20 451.49,27.03 452.01,26.86 452.52,26.70 453.04,26.54 453.55,26.40 454.06,26.26 454.58,26.12 455.09,26.00 455.60,25.89 456.12,25.78 456.63,25.69 457.14,25.60 457.66,25.53 458.17,25.47 458.68,25.41 459.20,25.36 459.71,25.31 460.23,25.26 460.74,25.21 461.25,25.16 461.77,25.12 462.28,25.08 462.79,25.03 463.31,24.99 463.82,24.96 464.33,24.92 464.85,24.88 465.36,24.85 465.87,24.81 466.39,24.78 466.90,24.75 467.41,24.71 467.93,24.68 468.44,24.65 468.96,24.62 469.47,24.60 469.98,24.57 470.50,24.54 471.01,24.51 471.52,24.48 472.04,24.46 472.55,24.43 473.06,24.40 473.58,24.38 474.09,24.35 474.60,24.32 475.12,24.30 475.63,24.27 476.14,24.24 476.66,24.21 477.17,24.19 477.69,24.16 478.20,24.13 478.71,24.10 479.23,24.07 479.74,24.04 480.25,24.00 480.77,23.97 481.28,23.94 481.79,23.90 482.31,23.86 482.82,23.83 483.33,23.79 483.85,23.75 484.36,23.71 484.88,23.66 485.39,23.62 485.90,23.58 486.42,23.54 486.93,23.49 487.44,23.45 487.96,23.40 488.47,23.36 488.98,23.31 489.50,23.27 490.01,23.23 490.52,23.18 491.04,23.14 491.55,23.10 492.06,23.05 492.58,23.01 493.09,22.97 493.61,22.93 494.12,22.89 494.63,22.86 495.15,22.82 495.66,22.78 496.17,22.75 496.69,22.72 497.20,22.69 497.71,22.66 498.23,22.63 498.74,22.60 499.25,22.58 499.77,22.56 500.28,22.54 500.79,22.52 501.31,22.51 501.82,22.50 502.34,22.49 502.85,22.48 503.36,22.47 503.88,22.47 504.39,22.47 504.90,22.47 505.42,22.48 505.93,22.48 506.44,22.48 506.96,22.48 507.47,22.49 507.98,22.49 508.50,22.50 509.01,22.50 509.52,22.51 510.04,22.51 510.55,22.52 511.07,22.53 511.58,22.54 512.09,22.54 512.61,22.55 513.12,22.56 513.63,22.57 514.15,22.59 514.66,22.60 515.17,22.61 515.69,22.62 516.20,22.63 516.71,22.65 517.23,22.66 517.74,22.68 518.26,22.69 518.77,22.71 519.28,22.73 519.80,22.74 520.31,22.76 520.82,22.78 521.34,22.80 521.85,22.82 522.36,22.84 522.88,22.86 523.39,22.88 523.90,22.90 524.42,22.92 524.93,22.95 525.44,23.00 525.96,23.07 526.47,23.16 526.99,23.25 527.50,23.36 528.01,23.49 528.53,23.62 529.04,23.77 529.55,23.92 530.07,24.08 530.58,24.25 531.09,24.43 531.61,24.60 532.12,24.79 532.63,24.97 533.15,25.15 533.66,25.34 534.17,25.52 534.69,25.70 535.20,25.88 535.72,26.05 536.23,26.22 536.74,26.38 537.26,26.55 537.77,26.72 538.28,26.89 538.80,27.07 539.31,27.24 539.82,27.42 540.34,27.61 540.85,27.79 541.36,27.98 541.88,28.17 542.39,28.36 542.91,28.55 543.42,28.75 543.93,28.95 544.45,29.15 544.96,29.35 545.47,29.55 545.99,29.76 546.50,29.96" stroke="#80cff0"/>
<polyline points="300.00,72.95 300.51,74.20 301.03,75.44 301.54,76.67 302.05,77.89 302.57,79.08 303.08,80.26 303.59,81.42 304.11,82.56 304.62,83.67 305.14,84.76 305.65,85.83 306.16,86.89 306.68,87.94 307.19,88.99 307.70,90.03 308.22,91.06 308.73,92.08 309.24,93.08 309.76,94.07 310.27,95.04 310.78,96.00 311.30,96.94 311.81,97.85 312.32,98.75 312.84,99.62 313.35,100.46 313.87,101.28 314.38,102.07 314.89,102.84 315.41,103.60 315.92,104.35 316.43,105.10 316.95,105.83 317.46,106.55 317.97,107.26 318.49,107.95 319.00,108.63 319.51,109.29 320.03,109.93 320.54,110.54 321.06,111.14 321.57,111.70 322.08,112.25 322.60,112.76 323.11,113.25 323.62,113.71 324.14,114.14 324.65,114.55 325.16,114.95 325.68,115.33 326.19,115.71 326.70,116.07 327.22,116.41 327.73,116.75 328.24,117.08 328.76,117.39 329.27,117.70 329.79,117.99 330.30,118.28 330.81,118.56 331.33,118.83 331.84,119.10 332.35,119.35 332.87,119.60 333.38,119.85 333.89,120.09 334.41,120.31 334.92,120.53 335.43,120.75 335.95,120.95 336.46,121.15 336.98,121.35 337.49,121.54 338.00,121.73 338.52,121.92 339.03,122.10 339.54,122.28 340.06,122.47 340.57,122.65 341.08,122.83 341.60,123.01 342.11,123.20 342.62,123.39 343.14,123.57 343.65,123.76 344.16,123.94 344.68,124.13 345.19,124.31 345.71,124.49 346.22,124.67 346.73,124.85 347.25,125.03 347.76,125.21 348.27,125.38 348.79,125.56 349.30,125.73 349.81,125.91 350.33,126.08 350.84,126.25 351.35,126.42 351.87,126.59 352.38,126.75 352.89,126.92 353.41,127.08 353.92,127.25 354.44,127.41 354.95,127.57 355.46,127.73 355.98,127.89 356.49,128.05 357.00,128.20 357.52,128.36 358.03,128.52 358.54,128.68 359.06,128.86 359.57,129.06 360.08,129.26 360.60,129.46 361.11,129.65 361.62,129.83 362.14,129.99 362.65,130.12 363.17,130.22 363.68,130.29 364.19,130.31 364.71,130.31 365.22,130.31 365.73,130.30 366.25,130.28 366.76,130.24 367.27,130.19 367.79,130.11 368.30,130.61 368.81,128.74 369.33,126.87 369.84,125.00 370.36,123.12 370.87,123.31 371.38,123.49 371.90,123.67 372.41,123.85 372.92,124.04 373.44,124.22 373.95,124.40 374.46,124.59 374.98,124.77 375.49,124.95 376.00,125.13 376.52,125.32 377.03,125.50 377.54,125.68 378.06,125.86 378.57,126.05 379.09,126.23 379.60,126.41 380.11,126.59 380.63,126.78 381.14,126.96 381.65,127.14 382.17,127.33 382.68,127.51 383.19,127.69 383.71,127.87 384.22,128.06 384.73,128.24 385.25,128.42 385.76,128.60 386.27,128.79 386.79,128.97 387.30,129.15 387.82,129.33 388.33,129.52 388.84,129.70 389.36,129.88 389.87,130.06 390.38,130.25 390.90,130.43 391.41,130.61 391.92,128.74 392.44,126.87 392.95,125.00 393.46,123.12 393.98,123.31 394.49,123.50 395.01,123.69 395.52,123.87 396.03,124.06 396.55,124.25 397.06,124.43 397.57,124.62 398.09,124.81 398.60,125.00 399.11,125.18 399.63,125.37 400.14,125.56 400.65,125.75 401.17,125.93 401.68,126.12 402.19,126.31 402.71,126.49 403.22,126.68 403.74,126.87 404.25,127.06 404.76,127.24 405.28,127.43 405.79,127.62 406.30,127.80 406.82,127.99 407.33,128.18 407.84,128.37 408.36,128.55 408.87,128.74 409.38,128.93 409.90,129.12 410.41,129.30 410.93,129.49 411.44,129.68 411.95,129.86 412.47,130.05 412.98,130.24 413.49,130.43 414.01,130.61 414.52,128.74 415.03,126.87 415.55,125.00 416.06,123.12 416.57,123.15 417.09,123.21 417.60,123.32 418.11,123.46 418.63,123.63 419.14,123.83 419.66,124.06 420.17,124.30 420.68,124.56 421.20,124.84 421.71,125.13 422.22,125.42 422.74,125.71 423.25,126.01 423.76,126.30 424.28,126.58 424.79,126.84 425.30,127.10 425.82,127.33 426.33,127.54 426.84,127.72 427.36,127.87 427.87,127.99 428.39,128.07 428.90,128.12 429.41,128.18 429.93,128.24 430.44,128.29 430.95,128.34 431.47,128.38 431.98,128.42 432.49,128.45 433.01,128.48 433.52,128.50 434.03,128.51 434.55,128.52 435.06,128.50 435.58,128.44 436.09,128.35 436.60,128.23 437.12,128.07 437.63,127.89 438.14,127.68 438.66,127.45 439.17,127.20 439.68,126.93 440.20,126.64 440.71,126.34 441.22,126.02 441.74,125.70 442.25,125.37 442.76,125.03 443.28,124.68 443.79,124.34 444.31,124.00 444.82,123.66 445.33,123.32 445.85,123.00 446.36,122.68 446.87,122.38 447.39,122.09 447.90,121.81 448.41,121.56 448.93,121.33 449.44,121.10 449.95,120.87 450.47,120.63 450.98,120.38 451.49,120.14 452.01,119.89 452.52,119.64 453.04,119.39 453.55,119.15 454.06,118.91 454.58,118.68 455.09,118.46 455.60,118.24 456.12,118.04 456.63,117.85 457.14,117.67 457.66,117.51 458.17,117.36 458.68,117.24 459.20,117.13 459.71,117.04 460.23,116.98 460.74,116.93 461.25,116.89 461.77,116.85 462.28,116.80 462.79,116.77 463.31,116.73 463.82,116.69 464.33,116.66 464.85,116.63 465.36,116.60 465.87,116.57 466.39,116.55 466.90,116.52 467.41,116.50 467.93,116.48 468.44,116.46 468.96,116.44 469.47,116.42 469.98,116.40 470.50,116.38 471.01,116.36 471.52,116.35 472.04,116.33 472.55,116.32 473.06,116.30 473.58,116.28 474.09,116.27 474.60,116.25 475.12,116.24 475.63,116.22 476.14,116.20 476.66,116.19 477.17,116.17 477.69,116.15 478.20,116.13 478.71,116.11 479.23,116.09 479.74,116.06 480.25,116.04 480.77,116.01 481.28,115.99 481.79,115.96 482.31,115.93 482.82,115.89 483.33,115.86 483.85,115.82 484.36,115.78 484.88,115.74 485.39,115.70 485.90,115.65 486.42,115.59 486.93,115.53 487.44,115.47 487.96,115.41 488.47,115.34 488.98,115.27 489.50,115.19 490.01,115.11 490.52,115.03 491.04,114.95 491.55,114.87 492.06,114.78 492.58,114.69 493.09,114.60 493.61,114.51 494.12,114.41 494.63,114.32 495.15,114.22 495.66,114.13 496.17,114.03 496.69,113.93 497.20,113.83 497.71,113.73 498.23,113.63 498.74,113.53 499.25,113.44 499.77,113.34 500.28,113.24 500.79,113.14 501.31,113.05 501.82,112.95 502.34,112.86 502.85,112.77 503.36,112.68 503.88,112.59 504.39,112.51 504.90,112.42 505.42,112.34 505.93,112.26 506.44,112.17 506.96,112.08 507.47,111.99 507.98,111.90 508.50,111.80 509.01,111.71 509.52,111.61 510.04,111.51 510.55,111.41 511.07,111.30 511.58,111.20 512.09,111.10 512.61,111.00 513.12,110.90 513.63,110.79 514.15,110.69 514.66,110.60 515.17,110.50 515.69,110.40 516.20,110.31 516.71,110.22 517.23,110.13 517.74,110.05 518.26,109.97 518.77,109.89 519.28,109.82 519.80,109.75 520.31,109.68 520.82,109.62 521.34,109.57 521.85,109.52 522.36,109.47 522.88,109.43 523.39,109.40 523.90,109.38 524.42,109.36 524.93,109.35 525.44,109.34 525.96,109.36 526.47,109.41 526.99,109.48 527.50,109.58 528.01,109.71 528.53,109.86 529.04,110.02 529.55,110.20 530.07,110.40 530.58,110.61 531.09,110.83 531.61,111.06 532.12,111.29 532.63,111.57 533.15,111.92 533.66,112.34 534.17,112.82 534.69,113.35 535.20,113.92 535.72,114.52 536.23,115.15 536.74,115.79 537.26,116.44 537.77,117.08 538.28,117.72 538.80,118.33 539.31,118.94 539.82,119.57 540.34,120.21 540.85,120.87 541.36,121.54 541.88,122.23 542.39,122.92 542.91,123.62 543.42,124.32 543.93,125.04 544.45,125.77 544.96,126.51 545.47,127.27 545.99,128.04 546.50,128.82" stroke="#dfc660"/>
<polyline points="300.00,72.95 300.51,74.50 301.03,76.04 301.54,77.56 302.05,79.06 302.57,80.54 303.08,82.00 303.59,83.43 304.11,84.83 304.62,86.20 305.14,87.53 305.65,88.84 306.16,90.15 306.68,91.45 307.19,92.74 307.70,94.03 308.22,95.30 308.73,96.56 309.24,97.80 309.76,99.02 310.27,100.22 310.78,101.39 311.30,102.53 311.81,103.65 312.32,104.72 312.84,105.76 313.35,106.76 313.87,107.72 314.38,108.63 314.89,109.50 315.41,110.36 315.92,111.19 316.43,112.01 316.95,112.81 317.46,113.59 317.97,114.35 318.49,115.09 319.00,115.81 319.51,116.51 320.03,117.19 320.54,117.85 321.06,118.49 321.57,119.10 322.08,119.69 322.60,120.26 323.11,120.80 323.62,121.32 324.14,121.83 324.65,122.31 325.16,122.79 325.68,123.26 326.19,123.72 326.70,124.17 327.22,124.60 327.73,125.02 328.24,125.43 328.76,125.82 329.27,126.20 329.79,126.57 330.30,126.92 330.81,127.26 331.33,127.58 331.84,127.88 332.35,128.17 332.87,128.44 333.38,128.69 333.89,128.94 334.41,129.18 334.92,129.41 335.43,129.63 335.95,129.84 336.46,130.04 336.98,130.23 337.49,130.41 338.00,130.57 338.52,130.72 339.03,130.85 339.54,131.01 340.06,131.21 340.57,131.41 341.08,130.38 341.60,128.12 342.11,125.85 342.62,123.59 343.14,121.33 343.65,121.85 344.16,122.37 344.68,122.89 345.19,123.42 345.71,123.94 346.22,124.46 346.73,124.98 347.25,125.51 347.76,126.03 348.27,126.55 348.79,127.07 349.30,127.59 349.81,128.12 350.33,128.64 350.84,129.16 351.35,129.68 351.87,130.21 352.38,130.73 352.89,131.25 353.41,130.38 353.92,128.12 354.44,125.85 354.95,123.59 355.46,121.33 355.98,121.83 356.49,122.34 357.00,122.85 357.52,123.35 358.03,123.86 358.54,124.37 359.06,124.87 359.57,125.38 360.08,125.89 360.60,126.39 361.11,126.90 361.62,127.41 362.14,127.91 362.65,128.42 363.17,128.93 363.68,129.43 364.19,129.94 364.71,130.45 365.22,130.95 365.73,131.46 366.25,129.47 366.76,127.21 367.27,124.95 367.79,122.68 368.30,121.56 368.81,122.15 369.33,122.73 369.84,123.32 370.36,123.90 370.87,124.49 371.38,125.07 371.90,125.66 372.41,126.24 372.92,126.83 373.44,127.41 373.95,128.00 374.46,128.58 374.98,129.17 375.49,129.76 376.00,130.34 376.52,130.93 377.03,131.51 377.54,129.25 378.06,126.98 378.57,124.72 379.09,122.46 379.60,121.65 380.11,122.31 380.63,122.96 381.14,123.61 381.65,124.26 382.17,124.92 382.68,125.57 383.19,126.22 383.71,126.88 384.22,127.53 384.73,128.18 385.25,128.83 385.76,129.49 386.27,130.14 386.79,130.79 387.30,131.45 387.82,129.47 388.33,127.21 388.84,124.95 389.36,122.68 389.87,121.54 390.38,122.06 390.90,122.58 391.41,123.10 391.92,123.62 392.44,124.15 392.95,124.67 393.46,125.19 393.98,125.71 394.49,126.24 395.01,126.76 395.52,127.28 396.03,127.80 396.55,128.33 397.06,128.85 397.57,129.37 398.09,129.89 398.60,130.41 399.11,130.94 399.63,131.46 400.14,129.47 400.65,127.21 401.17,124.95 401.68,122.68 402.19,121.60 402.71,122.28 403.22,122.97 403.74,123.65 404.25,124.33 404.76,125.02 405.28,125.70 405.79,126.38 406.30,127.07 406.82,127.75 407.33,128.44 407.84,129.12 408.36,129.80 408.87,130.49 409.38,131.17 409.90,130.38 410.41,128.12 410.93,125.85 411.44,123.59 411.95,121.33 412.47,122.03 412.98,122.73 413.49,123.43 414.01,124.14 414.52,124.84 415.03,125.54 415.55,126.24 416.06,126.95 416.57,127.65 417.09,128.35 417.60,129.05 418.11,129.76 418.63,130.46 419.14,131.16 419.66,130.38 420.17,128.12 420.68,125.85 421.20,123.59 421.71,121.33 422.22,121.91 422.74,122.49 423.25,123.07 423.76,123.65 424.28,124.24 424.79,124.82 425.30,125.40 425.82,125.98 426.33,126.56 426.84,127.15 427.36,127.73 427.87,128.31 428.39,128.89 428.90,129.47 429.41,130.06 429.93,130.64 430.44,131.22 430.95,130.38 431.47,128.12 431.98,125.85 432.49,123.59 433.01,121.33 433.52,121.80 434.03,122.27 434.55,122.75 435.06,123.22 435.58,123.70 436.09,124.17 436.60,124.64 437.12,125.12 437.63,125.59 438.14,126.06 438.66,126.54 439.17,127.01 439.68,127.48 440.20,127.96 440.71,128.43 441.22,128.91 441.74,129.38 442.25,129.85 442.76,130.33 443.28,130.80 443.79,131.27 444.31,130.38 444.82,128.12 445.33,125.85 445.85,123.59 446.36,121.33 446.87,121.61 447.39,121.89 447.90,122.18 448.41,122.46 448.93,122.74 449.44,123.02 449.95,123.31 450.47,123.59 450.98,123.87 451.49,124.16 452.01,124.44 452.52,124.72 453.04,125.00 453.55,125.29 454.06,125.57 454.58,125.85 455.09,126.14 455.60,126.42 456.12,126.70 456.63,126.98 457.14,127.27 457.66,127.55 458.17,127.83 458.68,128.12 459.20,128.40 459.71,128.68 460.23,128.97 460.74,129.25 461.25,129.53 461.77,129.81 462.28,130.10 462.79,130.38 463.31,130.66 463.82,130.95 464.33,131.23 464.85,131.51 465.36,129.25 465.87,126.98 466.39,124.72 466.90,122.46 467.41,121.47 467.93,121.77 468.44,122.06 468.96,122.36 469.47,122.65 469.98,122.95 470.50,123.24 471.01,123.53 471.52,123.83 472.04,124.12 472.55,124.42 473.06,124.71 473.58,125.01 474.09,125.30 474.60,125.59 475.12,125.89 475.63,126.18 476.14,126.48 476.66,126.77 477.17,127.07 477.69,127.36 478.20,127.66 478.71,127.95 479.23,128.24 479.74,128.54 480.25,128.83 480.77,129.13 481.28,129.42 481.79,129.72 482.31,130.01 482.82,130.30 483.33,130.60 483.85,130.89 484.36,131.19 484.88,131.48 485.39,129.47 485.90,127.21 486.42,124.95 486.93,122.68 487.44,121.42 487.96,121.66 488.47,121.91 488.98,122.15 489.50,122.39 490.01,122.63 490.52,122.87 491.04,123.11 491.55,123.35 492.06,123.60 492.58,123.84 493.09,124.08 493.61,124.32 494.12,124.56 494.63,124.80 495.15,125.04 495.66,125.28 496.17,125.53 496.69,125.77 497.20,126.01 497.71,126.25 498.23,126.49 498.74,126.73 499.25,126.97 499.77,127.22 500.28,127.46 500.79,127.70 501.31,127.94 501.82,128.18 502.34,128.42 502.85,128.66 503.36,128.90 503.88,129.15 504.39,129.39 504.90,129.63 505.42,129.87 505.93,130.11 506.44,130.35 506.96,130.59 507.47,130.84 507.98,131.08 508.50,131.32 509.01,131.06 509.52,128.80 510.04,126.53 510.55,124.27 511.07,122.01 511.58,121.61 512.09,122.01 512.61,122.41 513.12,122.80 513.63,123.20 514.15,123.60 514.66,124.00 515.17,124.40 515.69,124.80 516.20,125.20 516.71,125.60 517.23,126.00 517.74,126.40 518.26,126.80 518.77,127.20 519.28,127.60 519.80,128.00 520.31,128.40 520.82,128.80 521.34,129.19 521.85,129.59 522.36,129.99 522.88,130.39 523.39,130.79 523.90,131.19 524.42,131.06 524.93,128.80 525.44,126.53 525.96,124.27 526.47,122.01 526.99,121.60 527.50,122.00 528.01,122.40 528.53,122.79 529.04,123.19 529.55,123.59 530.07,123.98 530.58,124.38 531.09,124.77 531.61,125.17 532.12,125.57 532.63,125.96 533.15,126.36 533.66,126.76 534.17,127.15 534.69,127.55 535.20,127.94 535.72,128.34 536.23,128.74 536.74,129.13 537.26,129.53 537.77,129.93 538.28,130.32 538.80,130.72 539.31,131.12 539.82,131.51 540.34,129.25 540.85,126.98 541.36,124.72 541.88,122.46 542.39,121.40 542.91,121.55 543.42,121.70 543.93,121.85 544.45,122.00 544.96,122.14 545.47,122.29 545.99,122.44 546.50,122.59" stroke="#e36f84"/>
<polyline points="300.00,71.90 300.51,70.41 301.03,68.99 301.54,67.65 302.05,66.38 302.57,65.18 303.08,64.05 303.59,62.97 304.11,61.96 304.62,61.00 305.14,60.09 305.65,59.23 306.16,58.42 306.68,57.65 307.19,56.92 307.70,56.23 308.22,55.58 308.73,54.97 309.24,54.38 309.76,53.83 310.27,53.31 310.78,52.82 311.30,52.35 311.81,51.91 312.32,51.50 312.84,51.10 313.35,50.73 313.87,50.37 314.38,50.04 314.89,49.72 315.41,49.42 315.92,49.14 316.43,48.87 316.95,48.62 317.46,48.38 317.97,48.16 318.49,47.94 319.00,47.74 319.51,47.55 320.03,47.37 320.54,47.19 321.06,47.03 321.57,46.88 322.08,46.73 322.60,46.60 323.11,46.47 323.62,46.34 324.14,46.23 324.65,46.12 325.16,46.01 325.68,45.91 326.19,45.82 326.70,45.73 327.22,45.65 327.73,45.57 328.24,45.50 328.76,45.43 329.27,45.36 329.79,45.30 330.30,45.24 330.81,45.18 331.33,45.13 331.84,45.08 332.35,45.03 332.87,44.98 333.38,44.94 333.89,44.90 334.41,44.86 334.92,44.82 335.43,44.79 335.95,44.76 336.46,44.73 336.98,44.70 337.49,44.67 338.00,44.65 338.52,44.62 339.03,44.60 339.54,44.58 340.06,44.55 340.57,44.54 341.08,44.52 341.60,44.50 342.11,44.48 342.62,44.47 343.14,44.45 343.65,44.44 344.16,44.42 344.68,44.41 345.19,44.40 345.71,44.39 346.22,44.38 346.73,44.37 347.25,44.36 347.76,44.35 348.27,44.34 348.79,44.34 349.30,44.32 349.81,44.31 350.33,44.28 350.84,44.24 351.35,44.19 351.87,44.14 352.38,44.09 352.89,44.04 353.41,43.99 353.92,43.95 354.44,43.92 354.95,43.90 355.46,43.89 355.98,43.89 356.49,43.90 357.00,43.91 357.52,43.92 358.03,43.93 358.54,43.95 359.06,43.97 359.57,44.00 360.08,44.02 360.60,44.05 361.11,44.08 361.62,44.11 362.14,44.14 362.65,44.17 363.17,44.21 363.68,44.25 364.19,44.28 364.71,44.32 365.22,44.36 365.73,44.40 366.25,44.43 366.76,44.47 367.27,44.51 367.79,44.55 368.30,44.59 368.81,44.62 369.33,44.66 369.84,44.69 370.36,44.72 370.87,44.75 371.38,44.78 371.90,44.81 372.41,44.84 372.92,44.86 373.44,44.88 373.95,44.90 374.46,44.91 374.98,44.92 375.49,44.93 376.00,44.94 376.52,44.94 377.03,44.94 377.54,44.93 378.06,44.91 378.57,44.89 379.09,44.87 379.60,44.83 380.11,44.80 380.63,44.76 381.14,44.71 381.65,44.66 382.17,44.61 382.68,44.55 383.19,44.49 383.71,44.43 384.22,44.36 384.73,44.29 385.25,44.22 385.76,44.15 386.27,44.08 386.79,44.00 387.30,43.92 387.82,43.84 388.33,43.76 388.84,43.68 389.36,43.60 389.87,43.52 390.38,43.44 390.90,43.36 391.41,43.25 391.92,43.14 392.44,43.02 392.95,42.88 393.46,42.73 393.98,42.57 394.49,42.41 395.01,42.24 395.52,42.06 396.03,41.87 396.55,41.68 397.06,41.48 397.57,41.28 398.09,41.08 398.60,40.87 399.11,40.66 399.63,40.46 400.14,40.25 400.65,40.04 401.17,39.84 401.68,39.64 402.19,39.44 402.71,39.24 403.22,39.05 403.74,38.87 404.25,38.70 404.76,38.53 405.28,38.37 405.79,38.22 406.30,38.08 406.82,37.95 407.33,37.83 407.84,37.73 408.36,37.64 408.87,37.56 409.38,37.50 409.90,37.45 410.41,37.42 410.93,37.38 411.44,37.36 411.95,37.33 412.47,37.31 412.98,37.29 413.49,37.27 414.01,37.26 414.52,37.24 415.03,37.22 415.55,37.21 416.06,37.19 416.57,37.17 417.09,37.15 417.60,37.13 418.11,37.10 418.63,37.07 419.14,37.04 419.66,37.00 420.17,36.95 420.68,36.88 421.20,36.78 421.71,36.67 422.22,36.54 422.74,36.40 423.25,36.23 423.76,36.06 424.28,35.87 424.79,35.66 425.30,35.45 425.82,35.23 426.33,35.00 426.84,34.76 427.36,34.52 427.87,34.27 428.39,34.02 428.90,33.77 429.41,33.51 429.93,33.26 430.44,33.01 430.95,32.76 431.47,32.51 431.98,32.27 432.49,32.04 433.01,31.81 433.52,31.60 434.03,31.39 434.55,31.19 435.06,31.01 435.58,30.83 436.09,30.65 436.60,30.47 437.12,30.29 437.63,30.11 438.14,29.93 438.66,29.74 439.17,29.56 439.68,29.38 440.20,29.19 440.71,29.01 441.22,28.82 441.74,28.64 442.25,28.46 442.76,28.28 443.28,28.09 443.79,27.91 444.31,27.74 444.82,27.56 445.33,27.38 445.85,27.21 446.36,27.04 446.87,26.86 447.39,26.70 447.90,26.53 448.41,26.37 448.93,26.21 449.44,26.05 449.95,25.90 450.47,25.74 450.98,25.60 451.49,25.45 452.01,25.31 452.52,25.17 453.04,25.04 453.55,24.91 454.06,24.79 454.58,24.67 455.09,24.55 455.60,24.44 456.12,24.34 456.63,24.24 457.14,24.14 457.66,24.05 458.17,23.97 458.68,23.89 459.20,23.82 459.71,23.74 460.23,23.67 460.74,23.60 461.25,23.53 461.77,23.47 462.28,23.41 462.79,23.35 463.31,23.29 463.82,23.23 464.33,23.18 464.85,23.12 465.36,23.07 465.87,23.02 466.39,22.97 466.90,22.92 467.41,22.87 467.93,22.82 468.44,22.78 468.96,22.73 469.47,22.69 469.98,22.64 470.50,22.60 471.01,22.55 471.52,22.51 472.04,22.46 472.55,22.42 473.06,22.37 473.58,22.32 474.09,22.28 474.60,22.23 475.12,22.18 475.63,22.13 476.14,22.08 476.66,22.03 477.17,21.98 477.69,21.93 478.20,21.87 478.71,21.82 479.23,21.76 479.74,21.70 480.25,21.64 480.77,21.57 481.28,21.51 481.79,21.44 482.31,21.38 482.82,21.31 483.33,21.24 483.85,21.17 484.36,21.09 484.88,21.02 485.39,20.95 485.90,20.87 486.42,20.80 486.93,20.72 487.44,20.64 487.96,20.57 488.47,20.49 488.98,20.41 489.50,20.33 490.01,20.25 490.52,20.17 491.04,20.09 491.55,20.00 492.06,19.92 492.58,19.84 493.09,19.76 493.61,19.67 494.12,19.59 494.63,19.50 495.15,19.42 495.66,19.33 496.17,19.25 496.69,19.16 497.20,19.08 497.71,18.99 498.23,18.91 498.74,18.82 499.25,18.74 499.77,18.65 500.28,18.57 500.79,18.48 501.31,18.40 501.82,18.31 502.34,18.23 502.85,18.15 503.36,18.06 503.88,17.98 504.39,17.89 504.90,17.81 505.42,17.71 505.93,17.61 506.44,17.51 506.96,17.41 507.47,17.31 507.98,17.20 508.50,17.09 509.01,16.98 509.52,16.86 510.04,16.75 510.55,16.63 511.07,16.52 511.58,16.40 512.09,16.29 512.61,16.18 513.12,16.06 513.63,15.95 514.15,15.84 514.66,15.74 515.17,15.63 515.69,15.53 516.20,15.43 516.71,15.33 517.23,15.24 517.74,15.15 518.26,15.07 518.77,14.99 519.28,14.92 519.80,14.85 520.31,14.79 520.82,14.73 521.34,14.68 521.85,14.64 522.36,14.60 522.88,14.57 523.39,14.55 523.90,14.54 524.42,14.54 524.93,14.55 525.44,14.59 525.96,14.67 526.47,14.77 526.99,14.89 527.50,15.04 528.01,15.20 528.53,15.39 529.04,15.60 529.55,15.82 530.07,16.05 530.58,16.30 531.09,16.57 531.61,16.84 532.12,17.12 532.63,17.41 533.15,17.70 533.66,18.00 534.17,18.29 534.69,18.59 535.20,18.89 535.72,19.19 536.23,19.48 536.74,19.77 537.26,20.09 537.77,20.42 538.28,20.77 538.80,21.13 539.31,21.51 539.82,21.90 540.34,22.30 540.85,22.72 541.36,23.15 541.88,23.60 542.39,24.05 542.91,24.51 543.42,24.99 543.93,25.47 544.45,25.97 544.96,26.47 545.47,26.98 545.99,27.49 546.50,28.02" stroke="#aa2aa8" stroke-dasharray="3.6,1.4,1.6,1.4" stroke-width="1.2"/>
<polyline points="300.00,71.90 300.51,70.41 301.03,68.99 301.54,67.65 302.05,66.38 302.57,65.18 303.08,64.05 303.59,62.97 304.11,61.96 304.62,61.00 305.14,60.09 305.65,59.23 306.16,58.42 306.68,57.65 307.19,56.92 307.70,56.23 308.22,55.58 308.73,54.97 309.24,54.38 309.76,53.83 310.27,53.31 310.78,52.82 311.30,52.35 311.81,51.91 312.32,51.50 312.84,51.10 313.35,50.73 313.87,50.37 314.38,50.04 314.89,49.72 315.41,49.42 315.92,49.14 316.43,48.87 316.95,48.62 317.46,48.38 317.97,48.16 318.49,47.94 319.00,47.74 319.51,47.55 320.03,47.37 320.54,47.19 321.06,47.03 321.57,46.88 322.08,46.73 322.60,46.60 323.11,46.47 323.62,46.34 324.14,46.23 324.65,46.12 325.16,46.01 325.68,45.91 326.19,45.82 326.70,45.73 327.22,45.65 327.73,45.57 328.24,45.50 328.76,45.43 329.27,45.36 329.79,45.30 330.30,45.24 330.81,45.18 331.33,45.13 331.84,45.08 332.35,45.03 332.87,44.98 333.38,44.94 333.89,44.90 334.41,44.86 334.92,44.82 335.43,44.79 335.95,44.76 336.46,44.73 336.98,44.70 337.49,44.67 338.00,44.65 338.52,44.62 339.03,44.60 339.54,44.58 340.06,44.55 340.57,44.54 341.08,44.52 341.60,44.50 342.11,44.48 342.62,44.47 343.14,44.45 343.65,44.44 344.16,44.42 344.68,44.41 345.19,44.40 345.71,44.39 346.22,44.38 346.73,44.37 347.25,44.36 347.76,44.35 348.27,44.34 348.79,44.34 349.30,44.32 349.81,44.31 350.33,44.28 350.84,44.24 351.35,44.19 351.87,44.14 352.38,44.09 352.89,44.04 353.41,43.99 353.92,43.95 354.44,43.92 354.95,43.90 355.46,43.89 355.98,43.89 356.49,43.90 357.00,43.90 357.52,43.91 358.03,43.92 358.54,43.93 359.06,43.94 359.57,43.95 360.08,43.97 360.60,43.99 361.11,44.01 361.62,44.03 362.14,44.05 362.65,44.07 363.17,44.09 363.68,44.12 364.19,44.15 364.71,44.17 365.22,44.20 365.73,44.23 366.25,44.26 366.76,44.29 367.27,44.32 367.79,44.36 368.30,44.39 368.81,44.42 369.33,44.46 369.84,44.49 370.36,44.52 370.87,44.56 371.38,44.59 371.90,44.63 372.41,44.66 372.92,44.70 373.44,44.73 373.95,44.77 374.46,44.80 374.98,44.84 375.49,44.87 376.00,44.91 376.52,44.94 377.03,44.98 377.54,45.02 378.06,45.06 378.57,45.11 379.09,45.16 379.60,45.21 380.11,45.27 380.63,45.32 381.14,45.38 381.65,45.44 382.17,45.50 382.68,45.56 383.19,45.62 383.71,45.68 384.22,45.74 384.73,45.79 385.25,45.84 385.76,45.89 386.27,45.94 386.79,45.98 387.30,46.02 387.82,46.06 388.33,46.08 388.84,46.11 389.36,46.12 389.87,46.13 390.38,46.14 390.90,46.14 391.41,46.13 391.92,46.12 392.44,46.11 392.95,46.10 393.46,46.08 393.98,46.06 394.49,46.03 395.01,46.01 395.52,45.98 396.03,45.94 396.55,45.91 397.06,45.87 397.57,45.83 398.09,45.79 398.60,45.75 399.11,45.70 399.63,45.66 400.14,45.61 400.65,45.56 401.17,45.51 401.68,45.45 402.19,45.40 402.71,45.34 403.22,45.29 403.74,45.23 404.25,45.17 404.76,45.11 405.28,45.05 405.79,44.99 406.30,44.93 406.82,44.86 407.33,44.80 407.84,44.74 408.36,44.68 408.87,44.62 409.38,44.55 409.90,44.49 410.41,44.43 410.93,44.36 411.44,44.28 411.95,44.21 412.47,44.13 412.98,44.04 413.49,43.96 414.01,43.86 414.52,43.77 415.03,43.67 415.55,43.57 416.06,43.47 416.57,43.36 417.09,43.26 417.60,43.15 418.11,43.04 418.63,42.92 419.14,42.81 419.66,42.69 420.17,42.57 420.68,42.45 421.20,42.31 421.71,42.17 422.22,42.03 422.74,41.88 423.25,41.73 423.76,41.57 424.28,41.41 424.79,41.24 425.30,41.07 425.82,40.90 426.33,40.73 426.84,40.55 427.36,40.38 427.87,40.20 428.39,40.03 428.90,39.85 429.41,39.67 429.93,39.50 430.44,39.33 430.95,39.15 431.47,38.98 431.98,38.82 432.49,38.65 433.01,38.49 433.52,38.34 434.03,38.19 434.55,38.04 435.06,37.90 435.58,37.76 436.09,37.62 436.60,37.48 437.12,37.34 437.63,37.20 438.14,37.06 438.66,36.92 439.17,36.78 439.68,36.64 440.20,36.50 440.71,36.35 441.22,36.21 441.74,36.07 442.25,35.93 442.76,35.80 443.28,35.66 443.79,35.52 444.31,35.39 444.82,35.25 445.33,35.12 445.85,34.99 446.36,34.85 446.87,34.73 447.39,34.60 447.90,34.47 448.41,34.35 448.93,34.23 449.44,34.11 449.95,33.99 450.47,33.88 450.98,33.76 451.49,33.65 452.01,33.55 452.52,33.44 453.04,33.34 453.55,33.24 454.06,33.15 454.58,33.05 455.09,32.97 455.60,32.88 456.12,32.80 456.63,32.72 457.14,32.65 457.66,32.57 458.17,32.51 458.68,32.44 459.20,32.38 459.71,32.32 460.23,32.27 460.74,32.21 461.25,32.16 461.77,32.10 462.28,32.05 462.79,32.00 463.31,31.95 463.82,31.91 464.33,31.86 464.85,31.82 465.36,31.77 465.87,31.73 466.39,31.69 466.90,31.65 467.41,31.61 467.93,31.57 468.44,31.53 468.96,31.49 469.47,31.45 469.98,31.42 470.50,31.38 471.01,31.34 471.52,31.30 472.04,31.27 472.55,31.23 473.06,31.19 473.58,31.15 474.09,31.12 474.60,31.08 475.12,31.04 475.63,31.00 476.14,30.96 476.66,30.92 477.17,30.88 477.69,30.84 478.20,30.79 478.71,30.75 479.23,30.70 479.74,30.66 480.25,30.61 480.77,30.56 481.28,30.51 481.79,30.46 482.31,30.40 482.82,30.34 483.33,30.28 483.85,30.21 484.36,30.15 484.88,30.08 485.39,30.01 485.90,29.94 486.42,29.87 486.93,29.79 487.44,29.72 487.96,29.65 488.47,29.57 488.98,29.49 489.50,29.42 490.01,29.34 490.52,29.27 491.04,29.19 491.55,29.12 492.06,29.05 492.58,28.97 493.09,28.90 493.61,28.83 494.12,28.76 494.63,28.70 495.15,28.63 495.66,28.57 496.17,28.51 496.69,28.45 497.20,28.40 497.71,28.35 498.23,28.30 498.74,28.25 499.25,28.21 499.77,28.17 500.28,28.14 500.79,28.10 501.31,28.08 501.82,28.06 502.34,28.04 502.85,28.03 503.36,28.02 503.88,28.02 504.39,28.02 504.90,28.02 505.42,28.02 505.93,28.02 506.44,28.03 506.96,28.03 507.47,28.04 507.98,28.05 508.50,28.06 509.01,28.07 509.52,28.08 510.04,28.09 510.55,28.10 511.07,28.12 511.58,28.13 512.09,28.15 512.61,28.16 513.12,28.18 513.63,28.20 514.15,28.22 514.66,28.24 515.17,28.26 515.69,28.28 516.20,28.30 516.71,28.32 517.23,28.35 517.74,28.37 518.26,28.40 518.77,28.43 519.28,28.45 519.80,28.48 520.31,28.51 520.82,28.54 521.34,28.57 521.85,28.60 522.36,28.63 522.88,28.66 523.39,28.70 523.90,28.73 524.42,28.76 524.93,28.80 525.44,28.85 525.96,28.92 526.47,28.99 526.99,29.06 527.50,29.15 528.01,29.25 528.53,29.35 529.04,29.46 529.55,29.58 530.07,29.70 530.58,29.83 531.09,29.96 531.61,30.10 532.12,30.24 532.63,30.39 533.15,30.54 533.66,30.69 534.17,30.84 534.69,30.99 535.20,31.15 535.72,31.30 536.23,31.46 536.74,31.62 537.26,31.79 537.77,31.96 538.28,32.15 538.80,32.34 539.31,32.54 539.82,32.75 540.34,32.96 540.85,33.18 541.36,33.41 541.88,33.64 542.39,33.88 542.91,34.12 543.42,34.37 543.93,34.62 544.45,34.88 544.96,35.14 545.47,35.41 545.99,35.68 546.50,35.95" stroke="#9e2d60"/>
</g>
<g font-size="5.6" fill="#262626" text-anchor="middle">
<text x="300.00" y="146.60">0</text>
<text x="325.68" y="146.60">50</text>
<text x="351.35" y="146.60">100</text>
<text x="377.03" y="146.60">150</text>
<text x="402.71" y="146.60">200</text>
<text x="428.39" y="146.60">250</text>
<text x="454.06" y="146.60">300</text>
<text x="479.74" y="146.60">350</text>
<text x="505.42" y="146.60">400</text>
<text x="531.09" y="146.60">450</text>
</g>
<g font-size="5.6" fill="#262626" text-anchor="end">
<text x="298.20" y="141.32">15</text>
<text x="298.20" y="126.34">16</text>
<text x="298.20" y="111.36">17</text>
<text x="298.20" y="96.38">18</text>
<text x="298.20" y="81.40">19</text>
<text x="298.20" y="66.43">20</text>
<text x="298.20" y="51.45">21</text>
<text x="298.20" y="36.47">22</text>
<text x="298.20" y="21.49">23</text>
<text x="298.20" y="6.52">24</text>
</g>
<text x="423.2" y="155" font-size="6.2" fill="#262626" text-anchor="middle">Timestep</text>
<text transform="translate(288.8,71.9) rotate(-90)" font-size="6.45" fill="#262626" text-anchor="middle">Temperature (°C)</text>
<rect x="512.1" y="41.5" width="31.1" height="60.6" fill="#fff" stroke="#d6d6d6" stroke-width="0.6"/>
<line x1="513.70" y1="45.90" x2="524.30" y2="45.90" stroke="#2e2e96" stroke-width="1.2"/>
<text x="525.70" y="47.92" font-size="5.6" fill="#262626">Zone1</text>
<line x1="513.70" y1="53.33" x2="524.30" y2="53.33" stroke="#1b823a" stroke-width="1.2"/>
<text x="525.70" y="55.35" font-size="5.6" fill="#262626">Zone2</text>
<line x1="513.70" y1="60.76" x2="524.30" y2="60.76" stroke="#3cb08e" stroke-width="1.2"/>
<text x="525.70" y="62.78" font-size="5.6" fill="#262626">Zone3</text>
<line x1="513.70" y1="68.19" x2="524.30" y2="68.19" stroke="#80cff0" stroke-width="1.2"/>
<text x="525.70" y="70.21" font-size="5.6" fill="#262626">Zone4</text>
<line x1="513.70" y1="75.62" x2="524.30" y2="75.62" stroke="#dfc660" stroke-width="1.2"/>
<text x="525.70" y="77.64" font-size="5.6" fill="#262626">Zone5</text>
<line x1="513.70" y1="83.05" x2="524.30" y2="83.05" stroke="#e36f84" stroke-width="1.2"/>
<text x="525.70" y="85.07" font-size="5.6" fill="#262626">Zone6</text>
<line x1="513.70" y1="90.48" x2="524.30" y2="90.48" stroke="#aa2aa8" stroke-width="1.2" stroke-dasharray="3.6,1.4,1.6,1.4" stroke-width="1.15"/>
<text x="525.70" y="92.50" font-size="5.6" fill="#262626">Zone7</text>
<line x1="513.70" y1="97.91" x2="524.30" y2="97.91" stroke="#9e2d60" stroke-width="1.2"/>
<text x="525.70" y="99.93" font-size="5.6" fill="#262626">Zone8</text>
<rect x="171.3" y="168.2" width="216.10" height="118.00" fill="none" stroke="#b0b0b0" stroke-width="0.6"/>
<line x1="171.30" y1="286.2" x2="171.30" y2="284.0" stroke="#b0b0b0" stroke-width="0.6"/>
<line x1="171.30" y1="168.2" x2="171.30" y2="170.39999999999998" stroke="#b0b0b0" stroke-width="0.6"/>
<line x1="193.81" y1="286.2" x2="193.81" y2="284.0" stroke="#b0b0b0" stroke-width="0.6"/>
<line x1="193.81" y1="168.2" x2="193.81" y2="170.39999999999998" stroke="#b0b0b0" stroke-width="0.6"/>
<line x1="216.32" y1="286.2" x2="216.32" y2="284.0" stroke="#b0b0b0" stroke-width="0.6"/>
<line x1="216.32" y1="168.2" x2="216.32" y2="170.39999999999998" stroke="#b0b0b0" stroke-width="0.6"/>
<line x1="238.83" y1="286.2" x2="238.83" y2="284.0" stroke="#b0b0b0" stroke-width="0.6"/>
<line x1="238.83" y1="168.2" x2="238.83" y2="170.39999999999998" stroke="#b0b0b0" stroke-width="0.6"/>
<line x1="261.34" y1="286.2" x2="261.34" y2="284.0" stroke="#b0b0b0" stroke-width="0.6"/>
<line x1="261.34" y1="168.2" x2="261.34" y2="170.39999999999998" stroke="#b0b0b0" stroke-width="0.6"/>
<line x1="283.85" y1="286.2" x2="283.85" y2="284.0" stroke="#b0b0b0" stroke-width="0.6"/>
<line x1="283.85" y1="168.2" x2="283.85" y2="170.39999999999998" stroke="#b0b0b0" stroke-width="0.6"/>
<line x1="306.36" y1="286.2" x2="306.36" y2="284.0" stroke="#b0b0b0" stroke-width="0.6"/>
<line x1="306.36" y1="168.2" x2="306.36" y2="170.39999999999998" stroke="#b0b0b0" stroke-width="0.6"/>
<line x1="328.87" y1="286.2" x2="328.87" y2="284.0" stroke="#b0b0b0" stroke-width="0.6"/>
<line x1="328.87" y1="168.2" x2="328.87" y2="170.39999999999998" stroke="#b0b0b0" stroke-width="0.6"/>
<line x1="351.38" y1="286.2" x2="351.38" y2="284.0" stroke="#b0b0b0" stroke-width="0.6"/>
<line x1="351.38" y1="168.2" x2="351.38" y2="170.39999999999998" stroke="#b0b0b0" stroke-width="0.6"/>
<line x1="373.89" y1="286.2" x2="373.89" y2="284.0" stroke="#b0b0b0" stroke-width="0.6"/>
<line x1="373.89" y1="168.2" x2="373.89" y2="170.39999999999998" stroke="#b0b0b0" stroke-width="0.6"/>
<line x1="171.3" y1="286.20" x2="173.5" y2="286.20" stroke="#b0b0b0" stroke-width="0.6"/>
<line x1="387.4" y1="286.20" x2="385.2" y2="286.20" stroke="#b0b0b0" stroke-width="0.6"/>
<line x1="171.3" y1="274.40" x2="173.5" y2="274.40" stroke="#b0b0b0" stroke-width="0.6"/>
<line x1="387.4" y1="274.40" x2="385.2" y2="274.40" stroke="#b0b0b0" stroke-width="0.6"/>
<line x1="171.3" y1="262.60" x2="173.5" y2="262.60" stroke="#b0b0b0" stroke-width="0.6"/>
<line x1="387.4" y1="262.60" x2="385.2" y2="262.60" stroke="#b0b0b0" stroke-width="0.6"/>
<line x1="171.3" y1="250.80" x2="173.5" y2="250.80" stroke="#b0b0b0" stroke-width="0.6"/>
<line x1="387.4" y1="250.80" x2="385.2" y2="250.80" stroke="#b0b0b0" stroke-width="0.6"/>
<line x1="171.3" y1="239.00" x2="173.5" y2="239.00" stroke="#b0b0b0" stroke-width="0.6"/>
<line x1="387.4" y1="239.00" x2="385.2" y2="239.00" stroke="#b0b0b0" stroke-width="0.6"/>
<line x1="171.3" y1="227.20" x2="173.5" y2="227.20" stroke="#b0b0b0" stroke-width="0.6"/>
<line x1="387.4" y1="227.20" x2="385.2" y2="227.20" stroke="#b0b0b0" stroke-width="0.6"/>
<line x1="171.3" y1="215.40" x2="173.5" y2="215.40" stroke="#b0b0b0" stroke-width="0.6"/>
<line x1="387.4" y1="215.40" x2="385.2" y2="215.40" stroke="#b0b0b0" stroke-width="0.6"/>
<line x1="171.3" y1="203.60" x2="173.5" y2="203.60" stroke="#b0b0b0" stroke-width="0.6"/>
<line x1="387.4" y1="203.60" x2="385.2" y2="203.60" stroke="#b0b0b0" stroke-width="0.6"/>
<line x1="171.3" y1="191.80" x2="173.5" y2="191.80" stroke="#b0b0b0" stroke-width="0.6"/>
<line x1="387.4" y1="191.80" x2="385.2" y2="191.80" stroke="#b0b0b0" stroke-width="0.6"/>
<line x1="171.3" y1="180.00" x2="173.5" y2="180.00" stroke="#b0b0b0" stroke-width="0.6"/>
<line x1="387.4" y1="180.00" x2="385.2" y2="180.00" stroke="#b0b0b0" stroke-width="0.6"/>
<line x1="171.3" y1="168.20" x2="173.5" y2="168.20" stroke="#b0b0b0" stroke-width="0.6"/>
<line x1="387.4" y1="168.20" x2="385.2" y2="168.20" stroke="#b0b0b0" stroke-width="0.6"/>
<polyline points="171.30,169.97 171.75,169.97 172.20,277.23 172.65,277.58 173.10,277.87 173.55,277.87 174.00,277.63 174.45,277.71 174.90,213.15 175.35,278.43 175.80,278.78 176.25,278.83 176.70,278.80 177.15,278.83 177.60,278.86 178.05,278.76 178.50,278.64 178.95,278.71 179.40,278.56 179.85,278.68 180.30,278.64 180.75,213.07 181.20,278.55 181.65,278.66 182.11,278.62 182.56,278.52 183.01,278.35 183.46,278.60 183.91,278.59 184.36,278.43 184.81,278.65 185.26,278.58 185.71,278.43 186.16,278.47 186.61,278.52 187.06,278.45 187.51,278.86 187.96,278.41 188.41,278.64 188.86,278.73 189.31,213.05 189.76,278.46 190.21,278.60 190.66,213.05 191.11,278.55 191.56,278.57 192.01,278.41 192.46,278.49 192.91,278.57 193.36,278.47 193.81,212.96 194.26,278.73 194.71,213.00 195.16,278.58 195.61,212.87 196.06,278.77 196.51,278.67 196.96,212.91 197.41,278.65 197.86,278.69 198.31,278.96 198.76,278.77 199.21,278.91 199.66,278.73 200.11,279.08 200.56,278.96 201.01,278.79 201.46,278.76 201.91,279.17 202.36,278.99 202.81,278.92 203.26,212.98 203.72,278.81 204.17,212.94 204.62,279.00 205.07,279.18 205.52,212.92 205.97,279.10 206.42,279.16 206.87,279.34 207.32,278.96 207.77,212.97 208.22,279.11 208.67,213.16 209.12,212.96 209.57,279.33 210.02,279.36 210.47,279.38 210.92,213.03 211.37,212.89 211.82,279.40 212.27,279.38 212.72,279.33 213.17,279.30 213.62,279.53 214.07,279.60 214.52,213.03 214.97,212.99 215.42,279.34 215.87,206.55 216.32,279.48 216.77,213.01 217.22,279.48 217.67,279.36 218.12,279.56 218.57,279.45 219.02,279.48 219.47,212.88 219.92,212.95 220.37,212.92 220.82,279.30 221.27,279.29 221.72,213.04 222.17,279.50 222.62,279.53 223.07,279.39 223.52,213.00 223.97,213.03 224.42,279.31 224.87,279.58 225.32,279.39 225.78,279.44 226.23,279.36 226.68,213.21 227.13,213.08 227.58,279.41 228.03,279.32 228.48,279.33 228.93,279.28 229.38,279.21 229.83,279.12 230.28,213.04 230.73,213.07 231.18,279.00 231.63,279.26 232.08,279.19 232.53,213.14 232.98,213.11 233.43,213.03 233.88,279.20 234.33,279.20 234.78,279.10 235.23,278.97 235.68,279.17 236.13,279.08 236.58,279.13 237.03,213.05 237.48,212.99 237.93,212.99 238.38,278.91 238.83,278.85 239.28,213.03 239.73,213.04 240.18,234.28 240.63,213.04 241.08,213.04 241.53,278.87 241.98,213.09 242.43,212.94 242.88,212.99 243.33,203.95 243.78,278.74 244.23,213.03 244.68,213.22 245.13,278.57 245.58,278.43 246.03,191.45 246.48,212.89 246.94,213.04 247.39,278.57 247.84,278.48 248.29,213.18 248.74,213.03 249.19,213.05 249.64,278.36 250.09,278.58 250.54,212.98 250.99,212.95 251.44,212.97 251.89,278.28 252.34,278.41 252.79,213.10 253.24,212.89 253.69,213.02 254.14,278.52 254.59,278.45 255.04,278.61 255.49,213.01 255.94,213.18 256.39,278.64 256.84,278.57 257.29,278.51 257.74,213.18 258.19,213.10 258.64,278.69 259.09,278.76 259.54,213.01 259.99,213.06 260.44,213.09 260.89,278.68 261.34,278.75 261.79,278.81 262.24,213.11 262.69,213.00 263.14,278.94 263.59,278.71 264.04,278.62 264.49,278.77 264.94,212.95 265.39,213.13 265.84,278.87 266.29,198.05 266.74,278.88 267.19,278.87 267.64,279.06 268.09,279.00 268.55,279.00 269.00,279.03 269.45,213.12 269.90,212.95 270.35,212.92 270.80,279.11 271.25,279.14 271.70,279.09 272.15,279.15 272.60,279.31 273.05,213.07 273.50,279.22 273.95,279.35 274.40,279.11 274.85,279.06 275.30,279.31 275.75,279.32 276.20,279.33 276.65,196.99 277.10,213.13 277.55,213.09 278.00,279.28 278.45,279.51 278.90,279.47 279.35,213.06 279.80,212.99 280.25,213.18 280.70,279.41 281.15,279.56 281.60,279.54 282.05,212.97 282.50,213.10 282.95,279.48 283.40,279.45 283.85,279.41 284.30,212.93 284.75,182.01 285.20,279.54 285.65,279.43 286.10,279.44 286.55,279.38 287.00,279.64 287.45,279.25 287.90,279.47 288.35,212.91 288.80,213.18 289.25,279.52 289.70,279.36 290.15,212.85 290.61,212.92 291.06,279.26 291.51,279.30 291.96,201.00 292.41,212.99 292.86,279.16 293.31,279.39 293.76,279.17 294.21,213.08 294.66,212.99 295.11,279.31 295.56,279.25 296.01,279.28 296.46,279.24 296.91,279.10 297.36,279.20 297.81,207.38 298.26,213.17 298.71,213.28 299.16,213.01 299.61,279.18 300.06,278.89 300.51,278.98 300.96,279.12 301.41,279.05 301.86,279.04 302.31,279.16 302.76,278.79 303.21,278.85 303.66,278.90 304.11,246.08 304.56,278.97 305.01,278.85 305.46,279.09 305.91,212.88 306.36,278.67 306.81,279.03 307.26,279.14 307.71,278.86 308.16,278.59 308.61,278.76 309.06,278.71 309.51,278.60 309.96,278.76 310.41,278.62 310.86,278.54 311.31,278.56 311.76,278.56 312.22,278.67 312.67,278.52 313.12,213.08 313.57,278.54 314.02,278.49 314.47,278.60 314.92,278.51 315.37,278.60 315.82,278.58 316.27,278.69 316.72,278.72 317.17,278.59 317.62,212.92 318.07,278.64 318.52,278.45 318.97,278.55 319.42,278.19 319.87,278.43 320.32,278.62 320.77,278.46 321.22,270.03 321.67,278.65 322.12,278.44 322.57,278.67 323.02,278.95 323.47,278.51 323.92,278.69 324.37,278.45 324.82,278.71 325.27,278.79 325.72,278.48 326.17,212.80 326.62,278.67 327.07,213.11 327.52,278.71 327.97,278.75 328.42,278.75 328.87,278.68 329.32,278.89 329.77,278.74 330.22,278.77 330.67,278.58 331.12,278.91 331.57,279.00 332.02,278.83 332.47,213.25 332.92,278.92 333.38,278.96 333.83,278.86 334.28,279.09 334.73,279.05 335.18,279.36 335.63,213.08 336.08,278.92 336.53,279.20 336.98,279.22 337.43,279.30 337.88,279.11 338.33,279.17 338.78,279.35 339.23,279.15 339.68,279.22 340.13,263.54 340.58,279.36 341.03,279.09 341.48,279.27 341.93,279.34 342.38,279.41 342.83,213.00 343.28,279.27 343.73,279.42 344.18,279.27 344.63,279.34 345.08,279.26 345.53,279.33 345.98,279.44 346.43,279.67 346.88,212.94 347.33,279.36 347.78,279.44 348.23,279.40 348.68,279.52 349.13,279.52 349.58,279.58 350.03,279.31 350.48,279.46 350.93,279.53 351.38,279.63 351.83,279.49 352.28,279.29 352.73,279.41 353.18,212.97 353.63,212.95 354.08,279.27 354.53,279.32 354.99,279.33 355.44,213.12 355.89,210.68 356.34,279.30 356.79,247.26 357.24,212.97 357.69,213.01 358.14,279.10 358.59,279.57 359.04,279.23 359.49,213.17 359.94,256.70 360.39,279.21 360.84,279.16 361.29,213.08 361.74,213.05 362.19,279.21 362.64,203.01 363.09,279.00 363.54,241.36 363.99,279.11 364.44,279.07 364.89,278.95 365.34,212.96 365.79,279.19 366.24,250.80 366.69,279.12 367.14,212.94 367.59,212.94 368.04,236.64 368.49,279.04 368.94,197.58 369.39,212.96 369.84,213.03 370.29,199.00 370.74,278.96 371.19,278.72 371.64,278.82 372.09,278.85 372.54,278.79 372.99,278.67 373.44,278.71 373.89,278.70 374.34,278.55 374.79,278.75 375.24,251.86 375.69,278.70 376.14,278.48 376.59,212.94 377.05,213.11 377.50,278.59 377.95,278.60 378.40,278.47 378.85,213.11 379.30,212.92 379.75,278.46 380.20,278.63 380.65,278.55 381.10,213.14 381.55,278.33 382.00,278.23 382.45,278.54 382.90,212.94 383.35,213.06 383.80,278.51 384.25,278.54 384.70,278.66 385.15,212.97 385.60,278.73 386.05,278.58 386.50,278.54 386.95,212.97 387.40,212.97" fill="none" stroke="#0072bd" stroke-width="1.15" stroke-linejoin="round"/>
<g font-size="5.1" fill="#262626" text-anchor="middle">
<text x="171.30" y="292.80">0</text>
<text x="193.81" y="292.80">50</text>
<text x="216.32" y="292.80">100</text>
<text x="238.83" y="292.80">150</text>
<text x="261.34" y="292.80">200</text>
<text x="283.85" y="292.80">250</text>
<text x="306.36" y="292.80">300</text>
<text x="328.87" y="292.80">350</text>
<text x="351.38" y="292.80">400</text>
<text x="373.89" y="292.80">450</text>
</g>
<g font-size="5.1" fill="#262626" text-anchor="end">
<text x="169.00" y="288.04">0</text>
<text x="169.00" y="276.24">100</text>
<text x="169.00" y="264.44">200</text>
<text x="169.00" y="252.64">300</text>
<text x="169.00" y="240.84">400</text>
<text x="169.00" y="229.04">500</text>
<text x="169.00" y="217.24">600</text>
<text x="169.00" y="205.44">700</text>
<text x="169.00" y="193.64">800</text>
<text x="169.00" y="181.84">900</text>
<text x="169.00" y="170.04">1000</text>
</g>
<text x="279.35" y="300.3" font-size="5.6" fill="#262626" text-anchor="middle">Timestep</text>
<text transform="translate(156.3,224.6) rotate(-90)" font-size="5.25" fill="#262626" text-anchor="middle">HVAC energy consumption (Wh)</text>
</svg>
</body></html>
